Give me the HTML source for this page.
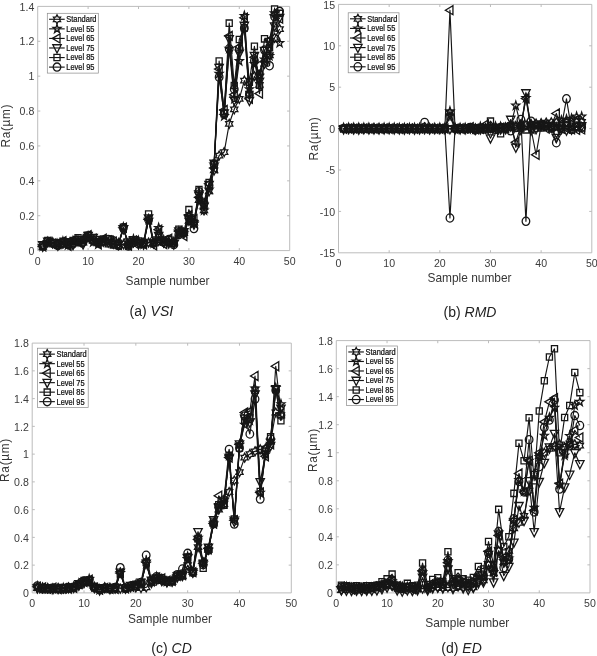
<!DOCTYPE html>
<html lang="en">
<head>
<meta charset="utf-8">
<title>Ra versus sample number</title>
<style>
html,body{margin:0;padding:0;background:#fff}
svg{display:block}
text{font-family:"Liberation Sans",sans-serif}
.ax{fill:none;stroke:#b8b8b8;stroke-width:.95}
.tk text{font-size:10.6px;fill:#3c3c3c}
.lb{font-size:11.9px;fill:#363636}
.cp{font-size:14px;fill:#222}
.ln{fill:none;stroke:#161616;stroke-width:1.15;stroke-linejoin:round}
.mk{fill:none;stroke:#161616;stroke-width:1.3;stroke-linejoin:miter}
.lg{fill:#fff;stroke:#8a8a8a;stroke-width:.7}
.lt{font-size:7.45px;fill:#111;stroke:#111;stroke-width:.22}
</style>
</head>
<body>
<svg width="597" height="656" viewBox="0 0 597 656">
<rect width="597" height="656" fill="#fff"/>
<path class="ax" d="M37.7,6.4H289.7V250.6H37.7ZM88.1,250.6v-2.6M88.1,6.4v2.6M138.5,250.6v-2.6M138.5,6.4v2.6M188.9,250.6v-2.6M188.9,6.4v2.6M239.3,250.6v-2.6M239.3,6.4v2.6M37.7,215.71h2.6M289.7,215.71h-2.6M37.7,180.83h2.6M289.7,180.83h-2.6M37.7,145.94h2.6M289.7,145.94h-2.6M37.7,111.06h2.6M289.7,111.06h-2.6M37.7,76.17h2.6M289.7,76.17h-2.6M37.7,41.29h2.6M289.7,41.29h-2.6"/>
<g class="tk" transform="scale(1,1.07)">
<text x="37.7" y="247.57" text-anchor="middle">0</text>
<text x="88.1" y="247.57" text-anchor="middle">10</text>
<text x="138.5" y="247.57" text-anchor="middle">20</text>
<text x="188.9" y="247.57" text-anchor="middle">30</text>
<text x="239.3" y="247.57" text-anchor="middle">40</text>
<text x="289.7" y="247.57" text-anchor="middle">50</text>
<text x="34.3" y="238.13" text-anchor="end">0</text>
<text x="34.3" y="205.53" text-anchor="end">0.2</text>
<text x="34.3" y="172.92" text-anchor="end">0.4</text>
<text x="34.3" y="140.32" text-anchor="end">0.6</text>
<text x="34.3" y="107.72" text-anchor="end">0.8</text>
<text x="34.3" y="75.11" text-anchor="end">1</text>
<text x="34.3" y="42.51" text-anchor="end">1.2</text>
<text x="34.3" y="9.91" text-anchor="end">1.4</text>
</g>
<path class="ln" d="M42.74,246.94L47.78,242.58L52.82,243.45L57.86,244.32L62.9,243.45L67.94,244.32L72.98,242.58L78.02,241.7L83.06,242.58L88.1,237.34L93.14,240.83L98.18,242.58L103.22,241.7L108.26,242.58L113.3,243.45L118.34,244.32L123.38,244.32L128.42,244.32L133.46,242.58L138.5,242.58L143.54,243.45L148.58,242.58L153.62,243.45L158.66,240.83L163.7,242.58L168.74,241.7L173.78,242.58L178.82,233.85L183.86,233.16L188.9,220.95L193.94,222.69L198.98,200.02L204.02,210.48L209.06,191.29L214.1,170.36L219.14,155.54L224.18,152.05L229.22,123.79L234.26,109.31L239.3,98.85L244.34,80.53L249.38,93.61L254.42,76.17L259.46,84.89L264.5,63.96L269.54,55.24L274.58,37.8L279.62,29.08"/>
<path class="mk" d="M42.74,242.45L43.94,244.69L46.33,244.7L45.14,246.94L46.33,249.18L43.94,249.18L42.74,251.42L41.54,249.18L39.15,249.18L40.34,246.94L39.15,244.7L41.54,244.69ZM47.78,238.09L48.98,240.33L51.37,240.34L50.18,242.58L51.37,244.82L48.98,244.82L47.78,247.06L46.58,244.82L44.19,244.82L45.38,242.58L44.19,240.34L46.58,240.33ZM52.82,238.97L54.02,241.2L56.41,241.21L55.22,243.45L56.41,245.69L54.02,245.69L52.82,247.93L51.62,245.69L49.23,245.69L50.42,243.45L49.23,241.21L51.62,241.2ZM57.86,239.84L59.06,242.08L61.45,242.08L60.26,244.32L61.45,246.56L59.06,246.57L57.86,248.8L56.66,246.57L54.27,246.56L55.46,244.32L54.27,242.08L56.66,242.08ZM62.9,238.97L64.1,241.2L66.49,241.21L65.3,243.45L66.49,245.69L64.1,245.69L62.9,247.93L61.7,245.69L59.31,245.69L60.5,243.45L59.31,241.21L61.7,241.2ZM67.94,239.84L69.14,242.08L71.53,242.08L70.34,244.32L71.53,246.56L69.14,246.57L67.94,248.8L66.74,246.57L64.35,246.56L65.54,244.32L64.35,242.08L66.74,242.08ZM72.98,238.09L74.18,240.33L76.57,240.34L75.38,242.58L76.57,244.82L74.18,244.82L72.98,247.06L71.78,244.82L69.39,244.82L70.58,242.58L69.39,240.34L71.78,240.33ZM78.02,237.22L79.22,239.46L81.61,239.46L80.42,241.7L81.61,243.95L79.22,243.95L78.02,246.19L76.82,243.95L74.43,243.95L75.62,241.7L74.43,239.46L76.82,239.46ZM83.06,238.09L84.26,240.33L86.65,240.34L85.46,242.58L86.65,244.82L84.26,244.82L83.06,247.06L81.86,244.82L79.47,244.82L80.66,242.58L79.47,240.34L81.86,240.33ZM88.1,232.86L89.3,235.1L91.69,235.1L90.5,237.34L91.69,239.58L89.3,239.59L88.1,241.83L86.9,239.59L84.51,239.58L85.7,237.34L84.51,235.1L86.9,235.1ZM93.14,236.35L94.34,238.59L96.73,238.59L95.54,240.83L96.73,243.07L94.34,243.08L93.14,245.31L91.94,243.08L89.55,243.07L90.74,240.83L89.55,238.59L91.94,238.59ZM98.18,238.09L99.38,240.33L101.77,240.34L100.58,242.58L101.77,244.82L99.38,244.82L98.18,247.06L96.98,244.82L94.59,244.82L95.78,242.58L94.59,240.34L96.98,240.33ZM103.22,237.22L104.42,239.46L106.81,239.46L105.62,241.7L106.81,243.95L104.42,243.95L103.22,246.19L102.02,243.95L99.63,243.95L100.82,241.7L99.63,239.46L102.02,239.46ZM108.26,238.09L109.46,240.33L111.85,240.34L110.66,242.58L111.85,244.82L109.46,244.82L108.26,247.06L107.06,244.82L104.67,244.82L105.86,242.58L104.67,240.34L107.06,240.33ZM113.3,238.97L114.5,241.2L116.89,241.21L115.7,243.45L116.89,245.69L114.5,245.69L113.3,247.93L112.1,245.69L109.71,245.69L110.9,243.45L109.71,241.21L112.1,241.2ZM118.34,239.84L119.54,242.08L121.93,242.08L120.74,244.32L121.93,246.56L119.54,246.57L118.34,248.8L117.14,246.57L114.75,246.56L115.94,244.32L114.75,242.08L117.14,242.08ZM123.38,239.84L124.58,242.08L126.97,242.08L125.78,244.32L126.97,246.56L124.58,246.57L123.38,248.8L122.18,246.57L119.79,246.56L120.98,244.32L119.79,242.08L122.18,242.08ZM128.42,239.84L129.62,242.08L132.01,242.08L130.82,244.32L132.01,246.56L129.62,246.57L128.42,248.8L127.22,246.57L124.83,246.56L126.02,244.32L124.83,242.08L127.22,242.08ZM133.46,238.09L134.66,240.33L137.05,240.34L135.86,242.58L137.05,244.82L134.66,244.82L133.46,247.06L132.26,244.82L129.87,244.82L131.06,242.58L129.87,240.34L132.26,240.33ZM138.5,238.09L139.7,240.33L142.09,240.34L140.9,242.58L142.09,244.82L139.7,244.82L138.5,247.06L137.3,244.82L134.91,244.82L136.1,242.58L134.91,240.34L137.3,240.33ZM143.54,238.97L144.74,241.2L147.13,241.21L145.94,243.45L147.13,245.69L144.74,245.69L143.54,247.93L142.34,245.69L139.95,245.69L141.14,243.45L139.95,241.21L142.34,241.2ZM148.58,238.09L149.78,240.33L152.17,240.34L150.98,242.58L152.17,244.82L149.78,244.82L148.58,247.06L147.38,244.82L144.99,244.82L146.18,242.58L144.99,240.34L147.38,240.33ZM153.62,238.97L154.82,241.2L157.21,241.21L156.02,243.45L157.21,245.69L154.82,245.69L153.62,247.93L152.42,245.69L150.03,245.69L151.22,243.45L150.03,241.21L152.42,241.2ZM158.66,236.35L159.86,238.59L162.25,238.59L161.06,240.83L162.25,243.07L159.86,243.08L158.66,245.31L157.46,243.08L155.07,243.07L156.26,240.83L155.07,238.59L157.46,238.59ZM163.7,238.09L164.9,240.33L167.29,240.34L166.1,242.58L167.29,244.82L164.9,244.82L163.7,247.06L162.5,244.82L160.11,244.82L161.3,242.58L160.11,240.34L162.5,240.33ZM168.74,237.22L169.94,239.46L172.33,239.46L171.14,241.7L172.33,243.95L169.94,243.95L168.74,246.19L167.54,243.95L165.15,243.95L166.34,241.7L165.15,239.46L167.54,239.46ZM173.78,238.09L174.98,240.33L177.37,240.34L176.18,242.58L177.37,244.82L174.98,244.82L173.78,247.06L172.58,244.82L170.19,244.82L171.38,242.58L170.19,240.34L172.58,240.33ZM178.82,229.37L180.02,231.61L182.41,231.61L181.22,233.85L182.41,236.1L180.02,236.1L178.82,238.34L177.62,236.1L175.23,236.1L176.42,233.85L175.23,231.61L177.62,231.61ZM183.86,228.68L185.06,230.91L187.45,230.92L186.26,233.16L187.45,235.4L185.06,235.4L183.86,237.64L182.66,235.4L180.27,235.4L181.46,233.16L180.27,230.92L182.66,230.91ZM188.9,216.47L190.1,218.7L192.49,218.71L191.3,220.95L192.49,223.19L190.1,223.19L188.9,225.43L187.7,223.19L185.31,223.19L186.5,220.95L185.31,218.71L187.7,218.7ZM193.94,218.21L195.14,220.45L197.53,220.45L196.34,222.69L197.53,224.93L195.14,224.94L193.94,227.17L192.74,224.94L190.35,224.93L191.54,222.69L190.35,220.45L192.74,220.45ZM198.98,195.53L200.18,197.77L202.57,197.77L201.38,200.02L202.57,202.26L200.18,202.26L198.98,204.5L197.78,202.26L195.39,202.26L196.58,200.02L195.39,197.77L197.78,197.77ZM204.02,206L205.22,208.24L207.61,208.24L206.42,210.48L207.61,212.72L205.22,212.73L204.02,214.96L202.82,212.73L200.43,212.72L201.62,210.48L200.43,208.24L202.82,208.24ZM209.06,186.81L210.26,189.05L212.65,189.05L211.46,191.29L212.65,193.54L210.26,193.54L209.06,195.78L207.86,193.54L205.47,193.54L206.66,191.29L205.47,189.05L207.86,189.05ZM214.1,165.88L215.3,168.12L217.69,168.12L216.5,170.36L217.69,172.6L215.3,172.61L214.1,174.84L212.9,172.61L210.51,172.6L211.7,170.36L210.51,168.12L212.9,168.12ZM219.14,151.05L220.34,153.29L222.73,153.3L221.54,155.54L222.73,157.78L220.34,157.78L219.14,160.02L217.94,157.78L215.55,157.78L216.74,155.54L215.55,153.3L217.94,153.29ZM224.18,147.57L225.38,149.8L227.77,149.81L226.58,152.05L227.77,154.29L225.38,154.29L224.18,156.53L222.98,154.29L220.59,154.29L221.78,152.05L220.59,149.81L222.98,149.8ZM229.22,119.31L230.42,121.55L232.81,121.55L231.62,123.79L232.81,126.03L230.42,126.04L229.22,128.27L228.02,126.04L225.63,126.03L226.82,123.79L225.63,121.55L228.02,121.55ZM234.26,104.83L235.46,107.07L237.85,107.07L236.66,109.31L237.85,111.55L235.46,111.56L234.26,113.79L233.06,111.56L230.67,111.55L231.86,109.31L230.67,107.07L233.06,107.07ZM239.3,94.37L240.5,96.6L242.89,96.61L241.7,98.85L242.89,101.09L240.5,101.09L239.3,103.33L238.1,101.09L235.71,101.09L236.9,98.85L235.71,96.61L238.1,96.6ZM244.34,76.05L245.54,78.29L247.93,78.29L246.74,80.53L247.93,82.77L245.54,82.78L244.34,85.01L243.14,82.78L240.75,82.77L241.94,80.53L240.75,78.29L243.14,78.29ZM249.38,89.13L250.58,91.37L252.97,91.37L251.78,93.61L252.97,95.86L250.58,95.86L249.38,98.1L248.18,95.86L245.79,95.86L246.98,93.61L245.79,91.37L248.18,91.37ZM254.42,71.69L255.62,73.93L258.01,73.93L256.82,76.17L258.01,78.41L255.62,78.42L254.42,80.65L253.22,78.42L250.83,78.41L252.02,76.17L250.83,73.93L253.22,73.93ZM259.46,80.41L260.66,82.65L263.05,82.65L261.86,84.89L263.05,87.13L260.66,87.14L259.46,89.37L258.26,87.14L255.87,87.13L257.06,84.89L255.87,82.65L258.26,82.65ZM264.5,59.48L265.7,61.72L268.09,61.72L266.9,63.96L268.09,66.2L265.7,66.21L264.5,68.44L263.3,66.21L260.91,66.2L262.1,63.96L260.91,61.72L263.3,61.72ZM269.54,50.76L270.74,53L273.13,53L271.94,55.24L273.13,57.48L270.74,57.48L269.54,59.72L268.34,57.48L265.95,57.48L267.14,55.24L265.95,53L268.34,53ZM274.58,33.32L275.78,35.55L278.17,35.56L276.98,37.8L278.17,40.04L275.78,40.04L274.58,42.28L273.38,40.04L270.99,40.04L272.18,37.8L270.99,35.56L273.38,35.55ZM279.62,24.59L280.82,26.83L283.21,26.83L282.02,29.08L283.21,31.32L280.82,31.32L279.62,33.56L278.42,31.32L276.03,31.32L277.22,29.08L276.03,26.83L278.42,26.83Z"/>
<path class="ln" d="M42.74,246.31L47.78,242.1L52.82,242.67L57.86,244.09L62.9,241.59L67.94,245.16L72.98,241L78.02,242.56L83.06,239.62L88.1,236.25L93.14,242.3L98.18,244.36L103.22,242.01L108.26,241.9L113.3,241.46L118.34,243.28L123.38,227.48L128.42,245.08L133.46,239.46L138.5,240.97L143.54,244.54L148.58,219.63L153.62,243.42L158.66,227.92L163.7,240.21L168.74,242.33L173.78,242.09L178.82,231.5L183.86,233.15L188.9,216.02L193.94,223.64L198.98,192.25L204.02,210.48L209.06,189.53L214.1,164.57L219.14,73.81L224.18,116.1L229.22,48.76L234.26,99.06L239.3,61.08L244.34,15.99L249.38,89.17L254.42,63.91L259.46,75.67L264.5,59.41L269.54,56.02L274.58,13.38L279.62,43.03"/>
<path class="mk" d="M42.74,241.83L43.71,244.87L46.69,244.93L44.31,246.86L45.18,249.94L42.74,248.09L40.3,249.94L41.17,246.86L38.79,244.93L41.77,244.87ZM47.78,237.61L48.75,240.66L51.73,240.71L49.35,242.65L50.22,245.72L47.78,243.88L45.34,245.72L46.21,242.65L43.83,240.71L46.81,240.66ZM52.82,238.19L53.79,241.23L56.77,241.28L54.39,243.22L55.26,246.29L52.82,244.45L50.38,246.29L51.25,243.22L48.87,241.28L51.85,241.23ZM57.86,239.61L58.83,242.65L61.81,242.7L59.43,244.64L60.3,247.72L57.86,245.87L55.42,247.72L56.29,244.64L53.91,242.7L56.89,242.65ZM62.9,237.1L63.87,240.15L66.85,240.2L64.47,242.14L65.34,245.21L62.9,243.37L60.46,245.21L61.33,242.14L58.95,240.2L61.93,240.15ZM67.94,240.68L68.91,243.72L71.89,243.77L69.51,245.71L70.38,248.78L67.94,246.94L65.5,248.78L66.37,245.71L63.99,243.77L66.97,243.72ZM72.98,236.52L73.95,239.56L76.93,239.62L74.55,241.55L75.42,244.63L72.98,242.79L70.54,244.63L71.41,241.55L69.03,239.62L72.01,239.56ZM78.02,238.07L78.99,241.11L81.97,241.17L79.59,243.11L80.46,246.18L78.02,244.34L75.58,246.18L76.45,243.11L74.07,241.17L77.05,241.11ZM83.06,235.14L84.03,238.18L87.01,238.23L84.63,240.17L85.5,243.24L83.06,241.4L80.62,243.24L81.49,240.17L79.11,238.23L82.09,238.18ZM88.1,231.77L89.07,234.81L92.05,234.87L89.67,236.8L90.54,239.88L88.1,238.04L85.66,239.88L86.53,236.8L84.15,234.87L87.13,234.81ZM93.14,237.81L94.11,240.85L97.09,240.91L94.71,242.85L95.58,245.92L93.14,244.08L90.7,245.92L91.57,242.85L89.19,240.91L92.17,240.85ZM98.18,239.88L99.15,242.92L102.13,242.97L99.75,244.91L100.62,247.98L98.18,246.14L95.74,247.98L96.61,244.91L94.23,242.97L97.21,242.92ZM103.22,237.52L104.19,240.57L107.17,240.62L104.79,242.56L105.66,245.63L103.22,243.79L100.78,245.63L101.65,242.56L99.27,240.62L102.25,240.57ZM108.26,237.41L109.23,240.45L112.21,240.51L109.83,242.45L110.7,245.52L108.26,243.68L105.82,245.52L106.69,242.45L104.31,240.51L107.29,240.45ZM113.3,236.98L114.27,240.02L117.25,240.08L114.87,242.02L115.74,245.09L113.3,243.25L110.86,245.09L111.73,242.02L109.35,240.08L112.33,240.02ZM118.34,238.79L119.31,241.83L122.29,241.89L119.91,243.83L120.78,246.9L118.34,245.06L115.9,246.9L116.77,243.83L114.39,241.89L117.37,241.83ZM123.38,223L124.35,226.04L127.33,226.1L124.95,228.03L125.82,231.11L123.38,229.26L120.94,231.11L121.81,228.03L119.43,226.1L122.41,226.04ZM128.42,240.6L129.39,243.64L132.37,243.69L129.99,245.63L130.86,248.7L128.42,246.86L125.98,248.7L126.85,245.63L124.47,243.69L127.45,243.64ZM133.46,234.97L134.43,238.01L137.41,238.07L135.03,240.01L135.9,243.08L133.46,241.24L131.02,243.08L131.89,240.01L129.51,238.07L132.49,238.01ZM138.5,236.49L139.47,239.53L142.45,239.59L140.07,241.52L140.94,244.6L138.5,242.76L136.06,244.6L136.93,241.52L134.55,239.59L137.53,239.53ZM143.54,240.05L144.51,243.09L147.49,243.15L145.11,245.09L145.98,248.16L143.54,246.32L141.1,248.16L141.97,245.09L139.59,243.15L142.57,243.09ZM148.58,215.15L149.55,218.19L152.53,218.25L150.15,220.18L151.02,223.26L148.58,221.41L146.14,223.26L147.01,220.18L144.63,218.25L147.61,218.19ZM153.62,238.94L154.59,241.98L157.57,242.03L155.19,243.97L156.06,247.04L153.62,245.2L151.18,247.04L152.05,243.97L149.67,242.03L152.65,241.98ZM158.66,223.44L159.63,226.48L162.61,226.54L160.23,228.47L161.1,231.55L158.66,229.71L156.22,231.55L157.09,228.47L154.71,226.54L157.69,226.48ZM163.7,235.73L164.67,238.77L167.65,238.82L165.27,240.76L166.14,243.84L163.7,241.99L161.26,243.84L162.13,240.76L159.75,238.82L162.73,238.77ZM168.74,237.84L169.71,240.88L172.69,240.94L170.31,242.88L171.18,245.95L168.74,244.11L166.3,245.95L167.17,242.88L164.79,240.94L167.77,240.88ZM173.78,237.6L174.75,240.64L177.73,240.7L175.35,242.64L176.22,245.71L173.78,243.87L171.34,245.71L172.21,242.64L169.83,240.7L172.81,240.64ZM178.82,227.02L179.79,230.06L182.77,230.12L180.39,232.05L181.26,235.13L178.82,233.28L176.38,235.13L177.25,232.05L174.87,230.12L177.85,230.06ZM183.86,228.67L184.83,231.71L187.81,231.77L185.43,233.7L186.3,236.78L183.86,234.93L181.42,236.78L182.29,233.7L179.91,231.77L182.89,231.71ZM188.9,211.54L189.87,214.58L192.85,214.64L190.47,216.57L191.34,219.65L188.9,217.8L186.46,219.65L187.33,216.57L184.95,214.64L187.93,214.58ZM193.94,219.15L194.91,222.19L197.89,222.25L195.51,224.19L196.38,227.26L193.94,225.42L191.5,227.26L192.37,224.19L189.99,222.25L192.97,222.19ZM198.98,187.77L199.95,190.81L202.93,190.87L200.55,192.8L201.42,195.88L198.98,194.03L196.54,195.88L197.41,192.8L195.03,190.87L198.01,190.81ZM204.02,206L204.99,209.04L207.97,209.1L205.59,211.03L206.46,214.11L204.02,212.26L201.58,214.11L202.45,211.03L200.07,209.1L203.05,209.04ZM209.06,185.05L210.03,188.09L213.01,188.15L210.63,190.08L211.5,193.16L209.06,191.31L206.62,193.16L207.49,190.08L205.11,188.15L208.09,188.09ZM214.1,160.09L215.07,163.13L218.05,163.19L215.67,165.12L216.54,168.2L214.1,166.35L211.66,168.2L212.53,165.12L210.15,163.19L213.13,163.13ZM219.14,69.32L220.11,72.36L223.09,72.42L220.71,74.36L221.58,77.43L219.14,75.59L216.7,77.43L217.57,74.36L215.19,72.42L218.17,72.36ZM224.18,111.62L225.15,114.66L228.13,114.71L225.75,116.65L226.62,119.72L224.18,117.88L221.74,119.72L222.61,116.65L220.23,114.71L223.21,114.66ZM229.22,44.28L230.19,47.32L233.17,47.38L230.79,49.31L231.66,52.39L229.22,50.54L226.78,52.39L227.65,49.31L225.27,47.38L228.25,47.32ZM234.26,94.58L235.23,97.62L238.21,97.67L235.83,99.61L236.7,102.68L234.26,100.84L231.82,102.68L232.69,99.61L230.31,97.67L233.29,97.62ZM239.3,56.59L240.27,59.63L243.25,59.69L240.87,61.63L241.74,64.7L239.3,62.86L236.86,64.7L237.73,61.63L235.35,59.69L238.33,59.63ZM244.34,11.51L245.31,14.55L248.29,14.61L245.91,16.54L246.78,19.62L244.34,17.78L241.9,19.62L242.77,16.54L240.39,14.61L243.37,14.55ZM249.38,84.69L250.35,87.73L253.33,87.79L250.95,89.72L251.82,92.8L249.38,90.95L246.94,92.8L247.81,89.72L245.43,87.79L248.41,87.73ZM254.42,59.43L255.39,62.47L258.37,62.52L255.99,64.46L256.86,67.53L254.42,65.69L251.98,67.53L252.85,64.46L250.47,62.52L253.45,62.47ZM259.46,71.19L260.43,74.23L263.41,74.29L261.03,76.23L261.9,79.3L259.46,77.46L257.02,79.3L257.89,76.23L255.51,74.29L258.49,74.23ZM264.5,54.93L265.47,57.97L268.45,58.02L266.07,59.96L266.94,63.03L264.5,61.19L262.06,63.03L262.93,59.96L260.55,58.02L263.53,57.97ZM269.54,51.54L270.51,54.58L273.49,54.63L271.11,56.57L271.98,59.65L269.54,57.8L267.1,59.65L267.97,56.57L265.59,54.63L268.57,54.58ZM274.58,8.9L275.55,11.94L278.53,11.99L276.15,13.93L277.02,17L274.58,15.16L272.14,17L273.01,13.93L270.63,11.99L273.61,11.94ZM279.62,38.55L280.59,41.59L283.57,41.64L281.19,43.58L282.06,46.66L279.62,44.81L277.18,46.66L278.05,43.58L275.67,41.64L278.65,41.59Z"/>
<path class="ln" d="M42.74,246.32L47.78,241.91L52.82,243.41L57.86,243.8L62.9,241.26L67.94,245.84L72.98,240.39L78.02,242.21L83.06,239.91L88.1,235.14L93.14,238.75L98.18,244.22L103.22,238.62L108.26,240.56L113.3,241.67L118.34,244.93L123.38,227.81L128.42,245.54L133.46,240.46L138.5,243.22L143.54,244.28L148.58,219.43L153.62,245.28L158.66,229.67L163.7,243.98L168.74,238.69L173.78,241.12L178.82,231.05L183.86,235.95L188.9,215.12L193.94,219.07L198.98,197.2L204.02,201.58L209.06,183.75L214.1,167.95L219.14,68.97L224.18,109.95L229.22,35.89L234.26,94.66L239.3,46.85L244.34,17.74L249.38,98.85L254.42,57.29L259.46,93.61L264.5,61.45L269.54,39.84L274.58,14.71L279.62,18.61"/>
<path class="mk" d="M38.14,246.32L45.74,241.79L45.74,250.86ZM43.18,241.91L50.78,237.38L50.78,246.45ZM48.22,243.41L55.82,238.87L55.82,247.94ZM53.26,243.8L60.86,239.26L60.86,248.33ZM58.3,241.26L65.9,236.73L65.9,245.8ZM63.34,245.84L70.94,241.3L70.94,250.37ZM68.38,240.39L75.98,235.85L75.98,244.92ZM73.42,242.21L81.02,237.68L81.02,246.75ZM78.46,239.91L86.06,235.37L86.06,244.44ZM83.5,235.14L91.1,230.61L91.1,239.68ZM88.54,238.75L96.14,234.22L96.14,243.29ZM93.58,244.22L101.18,239.68L101.18,248.75ZM98.62,238.62L106.22,234.08L106.22,243.15ZM103.66,240.56L111.26,236.02L111.26,245.1ZM108.7,241.67L116.3,237.14L116.3,246.21ZM113.74,244.93L121.34,240.39L121.34,249.46ZM118.78,227.81L126.38,223.27L126.38,232.34ZM123.82,245.54L131.42,241L131.42,250.07ZM128.86,240.46L136.46,235.93L136.46,245ZM133.9,243.22L141.5,238.68L141.5,247.76ZM138.94,244.28L146.54,239.75L146.54,248.82ZM143.98,219.43L151.58,214.89L151.58,223.97ZM149.02,245.28L156.62,240.74L156.62,249.82ZM154.06,229.67L161.66,225.13L161.66,234.2ZM159.1,243.98L166.7,239.44L166.7,248.51ZM164.14,238.69L171.74,234.15L171.74,243.23ZM169.18,241.12L176.78,236.59L176.78,245.66ZM174.22,231.05L181.82,226.51L181.82,235.58ZM179.26,235.95L186.86,231.42L186.86,240.49ZM184.3,215.12L191.9,210.59L191.9,219.66ZM189.34,219.07L196.94,214.54L196.94,223.61ZM194.38,197.2L201.98,192.66L201.98,201.74ZM199.42,201.58L207.02,197.04L207.02,206.11ZM204.46,183.75L212.06,179.21L212.06,188.28ZM209.5,167.95L217.1,163.42L217.1,172.49ZM214.54,68.97L222.14,64.43L222.14,73.5ZM219.58,109.95L227.18,105.42L227.18,114.49ZM224.62,35.89L232.22,31.35L232.22,40.43ZM229.66,94.66L237.26,90.13L237.26,99.2ZM234.7,46.85L242.3,42.31L242.3,51.39ZM239.74,17.74L247.34,13.2L247.34,22.27ZM244.78,98.85L252.38,94.31L252.38,103.38ZM249.82,57.29L257.42,52.75L257.42,61.83ZM254.86,93.61L262.46,89.08L262.46,98.15ZM259.9,61.45L267.5,56.91L267.5,65.98ZM264.94,39.84L272.54,35.3L272.54,44.38ZM269.98,14.71L277.58,10.17L277.58,19.24ZM275.02,18.61L282.62,14.07L282.62,23.15Z"/>
<path class="ln" d="M42.74,244.96L47.78,241.3L52.82,242.9L57.86,245.3L62.9,242.99L67.94,241.85L72.98,244.79L78.02,239.78L83.06,244.05L88.1,235.75L93.14,237.75L98.18,241.54L103.22,241.08L108.26,239.09L113.3,243.42L118.34,244.82L123.38,228.97L128.42,242.08L133.46,239.88L138.5,244L143.54,244.23L148.58,218.16L153.62,243.05L158.66,235.55L163.7,242.12L168.74,243.13L173.78,244.2L178.82,231.09L183.86,232.01L188.9,218.9L193.94,224.25L198.98,195.42L204.02,206.29L209.06,184.74L214.1,163.44L219.14,67.64L224.18,113.02L229.22,38.84L234.26,100.2L239.3,53.29L244.34,25.51L249.38,100.59L254.42,55.63L259.46,81.49L264.5,50.59L269.54,41.63L274.58,26.05L279.62,17.69"/>
<path class="mk" d="M42.74,249.92L38.54,241.72L46.94,241.72ZM47.78,246.27L43.58,238.06L51.98,238.06ZM52.82,247.87L48.62,239.66L57.02,239.66ZM57.86,250.27L53.66,242.06L62.06,242.06ZM62.9,247.96L58.7,239.75L67.1,239.75ZM67.94,246.82L63.74,238.61L72.14,238.61ZM72.98,249.75L68.78,241.55L77.18,241.55ZM78.02,244.75L73.82,236.54L82.22,236.54ZM83.06,249.02L78.86,240.81L87.26,240.81ZM88.1,240.72L83.9,232.51L92.3,232.51ZM93.14,242.72L88.94,234.51L97.34,234.51ZM98.18,246.51L93.98,238.3L102.38,238.3ZM103.22,246.04L99.02,237.84L107.42,237.84ZM108.26,244.06L104.06,235.85L112.46,235.85ZM113.3,248.39L109.1,240.18L117.5,240.18ZM118.34,249.79L114.14,241.58L122.54,241.58ZM123.38,233.94L119.18,225.73L127.58,225.73ZM128.42,247.05L124.22,238.84L132.62,238.84ZM133.46,244.85L129.26,236.64L137.66,236.64ZM138.5,248.97L134.3,240.76L142.7,240.76ZM143.54,249.2L139.34,240.99L147.74,240.99ZM148.58,223.13L144.38,214.92L152.78,214.92ZM153.62,248.02L149.42,239.81L157.82,239.81ZM158.66,240.52L154.46,232.31L162.86,232.31ZM163.7,247.09L159.5,238.88L167.9,238.88ZM168.74,248.1L164.54,239.89L172.94,239.89ZM173.78,249.17L169.58,240.96L177.98,240.96ZM178.82,236.05L174.62,227.85L183.02,227.85ZM183.86,236.98L179.66,228.77L188.06,228.77ZM188.9,223.87L184.7,215.66L193.1,215.66ZM193.94,229.22L189.74,221.01L198.14,221.01ZM198.98,200.38L194.78,192.18L203.18,192.18ZM204.02,211.26L199.82,203.05L208.22,203.05ZM209.06,189.71L204.86,181.5L213.26,181.5ZM214.1,168.41L209.9,160.2L218.3,160.2ZM219.14,72.61L214.94,64.4L223.34,64.4ZM224.18,117.99L219.98,109.78L228.38,109.78ZM229.22,43.81L225.02,35.6L233.42,35.6ZM234.26,105.17L230.06,96.96L238.46,96.96ZM239.3,58.26L235.1,50.05L243.5,50.05ZM244.34,30.48L240.14,22.27L248.54,22.27ZM249.38,105.56L245.18,97.35L253.58,97.35ZM254.42,60.6L250.22,52.39L258.62,52.39ZM259.46,86.46L255.26,78.25L263.66,78.25ZM264.5,55.56L260.3,47.35L268.7,47.35ZM269.54,46.6L265.34,38.39L273.74,38.39ZM274.58,31.02L270.38,22.81L278.78,22.81ZM279.62,22.65L275.42,14.45L283.82,14.45Z"/>
<path class="ln" d="M42.74,246.29L47.78,240.51L52.82,243L57.86,245.33L62.9,241.4L67.94,242.83L72.98,240.48L78.02,237.74L83.06,240.78L88.1,235.2L93.14,240.02L98.18,242.81L103.22,239.13L108.26,243.67L113.3,245.03L118.34,245.4L123.38,227.18L128.42,245.89L133.46,241.12L138.5,241.06L143.54,242.85L148.58,213.97L153.62,243.14L158.66,236.12L163.7,242.02L168.74,239.9L173.78,242.94L178.82,229.26L183.86,231.87L188.9,209.61L193.94,223.1L198.98,189.55L204.02,204.51L209.06,182.53L214.1,164.37L219.14,61L224.18,113.6L229.22,23.15L234.26,85.52L239.3,39.54L244.34,27.89L249.38,82.12L254.42,46.34L259.46,85.21L264.5,38.84L269.54,47.63L274.58,9.02L279.62,13.38"/>
<path class="mk" d="M39.69,243.16L45.79,243.16L45.79,249.43L39.69,249.43ZM44.73,237.38L50.83,237.38L50.83,243.64L44.73,243.64ZM49.77,239.86L55.87,239.86L55.87,246.13L49.77,246.13ZM54.81,242.2L60.91,242.2L60.91,248.46L54.81,248.46ZM59.85,238.27L65.95,238.27L65.95,244.54L59.85,244.54ZM64.89,239.7L70.99,239.7L70.99,245.96L64.89,245.96ZM69.93,237.34L76.03,237.34L76.03,243.61L69.93,243.61ZM74.97,234.61L81.07,234.61L81.07,240.88L74.97,240.88ZM80.01,237.65L86.11,237.65L86.11,243.91L80.01,243.91ZM85.05,232.07L91.15,232.07L91.15,238.33L85.05,238.33ZM90.09,236.89L96.19,236.89L96.19,243.15L90.09,243.15ZM95.13,239.68L101.23,239.68L101.23,245.94L95.13,245.94ZM100.17,236L106.27,236L106.27,242.26L100.17,242.26ZM105.21,240.54L111.31,240.54L111.31,246.8L105.21,246.8ZM110.25,241.9L116.35,241.9L116.35,248.17L110.25,248.17ZM115.29,242.27L121.39,242.27L121.39,248.53L115.29,248.53ZM120.33,224.04L126.43,224.04L126.43,230.31L120.33,230.31ZM125.37,242.76L131.47,242.76L131.47,249.02L125.37,249.02ZM130.41,237.99L136.51,237.99L136.51,244.26L130.41,244.26ZM135.45,237.93L141.55,237.93L141.55,244.2L135.45,244.2ZM140.49,239.72L146.59,239.72L146.59,245.99L140.49,245.99ZM145.53,210.84L151.63,210.84L151.63,217.1L145.53,217.1ZM150.57,240.01L156.67,240.01L156.67,246.28L150.57,246.28ZM155.61,232.98L161.71,232.98L161.71,239.25L155.61,239.25ZM160.65,238.89L166.75,238.89L166.75,245.15L160.65,245.15ZM165.69,236.77L171.79,236.77L171.79,243.03L165.69,243.03ZM170.73,239.81L176.83,239.81L176.83,246.07L170.73,246.07ZM175.77,226.13L181.87,226.13L181.87,232.39L175.77,232.39ZM180.81,228.74L186.91,228.74L186.91,235L180.81,235ZM185.85,206.48L191.95,206.48L191.95,212.74L185.85,212.74ZM190.89,219.97L196.99,219.97L196.99,226.24L190.89,226.24ZM195.93,186.42L202.03,186.42L202.03,192.68L195.93,192.68ZM200.97,201.38L207.07,201.38L207.07,207.65L200.97,207.65ZM206.01,179.4L212.11,179.4L212.11,185.66L206.01,185.66ZM211.05,161.24L217.15,161.24L217.15,167.51L211.05,167.51ZM216.09,57.86L222.19,57.86L222.19,64.13L216.09,64.13ZM221.13,110.47L227.23,110.47L227.23,116.73L221.13,116.73ZM226.17,20.01L232.27,20.01L232.27,26.28L226.17,26.28ZM231.21,82.39L237.31,82.39L237.31,88.65L231.21,88.65ZM236.25,36.41L242.35,36.41L242.35,42.67L236.25,42.67ZM241.29,24.76L247.39,24.76L247.39,31.02L241.29,31.02ZM246.33,78.99L252.43,78.99L252.43,85.26L246.33,85.26ZM251.37,43.21L257.47,43.21L257.47,49.48L251.37,49.48ZM256.41,82.08L262.51,82.08L262.51,88.35L256.41,88.35ZM261.45,35.71L267.55,35.71L267.55,41.98L261.45,41.98ZM266.49,44.5L272.59,44.5L272.59,50.76L266.49,50.76ZM271.53,5.88L277.63,5.88L277.63,12.15L271.53,12.15ZM276.57,10.25L282.67,10.25L282.67,16.51L276.57,16.51Z"/>
<path class="ln" d="M42.74,246.05L47.78,241.38L52.82,243.29L57.86,245.59L62.9,243.39L67.94,244.46L72.98,243.87L78.02,240.09L83.06,241.99L88.1,236.05L93.14,240.59L98.18,240.54L103.22,241.04L108.26,239.43L113.3,240.84L118.34,245.54L123.38,227.66L128.42,246.07L133.46,242.38L138.5,243.85L143.54,242.26L148.58,219.76L153.62,240.98L158.66,238.34L163.7,240.96L168.74,239.57L173.78,244.54L178.82,234.64L183.86,233.01L188.9,217.24L193.94,228.62L198.98,191.69L204.02,202.89L209.06,185.39L214.1,164.11L219.14,77.15L224.18,113.84L229.22,48.79L234.26,89.28L239.3,48.79L244.34,28.2L249.38,94.17L254.42,60.89L259.46,74.34L264.5,50.12L269.54,65.71L274.58,16.65L279.62,11.35"/>
<path class="mk" d="M38.94,246.05a3.8,4.1 0 1,0 7.6,0a3.8,4.1 0 1,0 -7.6,0ZM43.98,241.38a3.8,4.1 0 1,0 7.6,0a3.8,4.1 0 1,0 -7.6,0ZM49.02,243.29a3.8,4.1 0 1,0 7.6,0a3.8,4.1 0 1,0 -7.6,0ZM54.06,245.59a3.8,4.1 0 1,0 7.6,0a3.8,4.1 0 1,0 -7.6,0ZM59.1,243.39a3.8,4.1 0 1,0 7.6,0a3.8,4.1 0 1,0 -7.6,0ZM64.14,244.46a3.8,4.1 0 1,0 7.6,0a3.8,4.1 0 1,0 -7.6,0ZM69.18,243.87a3.8,4.1 0 1,0 7.6,0a3.8,4.1 0 1,0 -7.6,0ZM74.22,240.09a3.8,4.1 0 1,0 7.6,0a3.8,4.1 0 1,0 -7.6,0ZM79.26,241.99a3.8,4.1 0 1,0 7.6,0a3.8,4.1 0 1,0 -7.6,0ZM84.3,236.05a3.8,4.1 0 1,0 7.6,0a3.8,4.1 0 1,0 -7.6,0ZM89.34,240.59a3.8,4.1 0 1,0 7.6,0a3.8,4.1 0 1,0 -7.6,0ZM94.38,240.54a3.8,4.1 0 1,0 7.6,0a3.8,4.1 0 1,0 -7.6,0ZM99.42,241.04a3.8,4.1 0 1,0 7.6,0a3.8,4.1 0 1,0 -7.6,0ZM104.46,239.43a3.8,4.1 0 1,0 7.6,0a3.8,4.1 0 1,0 -7.6,0ZM109.5,240.84a3.8,4.1 0 1,0 7.6,0a3.8,4.1 0 1,0 -7.6,0ZM114.54,245.54a3.8,4.1 0 1,0 7.6,0a3.8,4.1 0 1,0 -7.6,0ZM119.58,227.66a3.8,4.1 0 1,0 7.6,0a3.8,4.1 0 1,0 -7.6,0ZM124.62,246.07a3.8,4.1 0 1,0 7.6,0a3.8,4.1 0 1,0 -7.6,0ZM129.66,242.38a3.8,4.1 0 1,0 7.6,0a3.8,4.1 0 1,0 -7.6,0ZM134.7,243.85a3.8,4.1 0 1,0 7.6,0a3.8,4.1 0 1,0 -7.6,0ZM139.74,242.26a3.8,4.1 0 1,0 7.6,0a3.8,4.1 0 1,0 -7.6,0ZM144.78,219.76a3.8,4.1 0 1,0 7.6,0a3.8,4.1 0 1,0 -7.6,0ZM149.82,240.98a3.8,4.1 0 1,0 7.6,0a3.8,4.1 0 1,0 -7.6,0ZM154.86,238.34a3.8,4.1 0 1,0 7.6,0a3.8,4.1 0 1,0 -7.6,0ZM159.9,240.96a3.8,4.1 0 1,0 7.6,0a3.8,4.1 0 1,0 -7.6,0ZM164.94,239.57a3.8,4.1 0 1,0 7.6,0a3.8,4.1 0 1,0 -7.6,0ZM169.98,244.54a3.8,4.1 0 1,0 7.6,0a3.8,4.1 0 1,0 -7.6,0ZM175.02,234.64a3.8,4.1 0 1,0 7.6,0a3.8,4.1 0 1,0 -7.6,0ZM180.06,233.01a3.8,4.1 0 1,0 7.6,0a3.8,4.1 0 1,0 -7.6,0ZM185.1,217.24a3.8,4.1 0 1,0 7.6,0a3.8,4.1 0 1,0 -7.6,0ZM190.14,228.62a3.8,4.1 0 1,0 7.6,0a3.8,4.1 0 1,0 -7.6,0ZM195.18,191.69a3.8,4.1 0 1,0 7.6,0a3.8,4.1 0 1,0 -7.6,0ZM200.22,202.89a3.8,4.1 0 1,0 7.6,0a3.8,4.1 0 1,0 -7.6,0ZM205.26,185.39a3.8,4.1 0 1,0 7.6,0a3.8,4.1 0 1,0 -7.6,0ZM210.3,164.11a3.8,4.1 0 1,0 7.6,0a3.8,4.1 0 1,0 -7.6,0ZM215.34,77.15a3.8,4.1 0 1,0 7.6,0a3.8,4.1 0 1,0 -7.6,0ZM220.38,113.84a3.8,4.1 0 1,0 7.6,0a3.8,4.1 0 1,0 -7.6,0ZM225.42,48.79a3.8,4.1 0 1,0 7.6,0a3.8,4.1 0 1,0 -7.6,0ZM230.46,89.28a3.8,4.1 0 1,0 7.6,0a3.8,4.1 0 1,0 -7.6,0ZM235.5,48.79a3.8,4.1 0 1,0 7.6,0a3.8,4.1 0 1,0 -7.6,0ZM240.54,28.2a3.8,4.1 0 1,0 7.6,0a3.8,4.1 0 1,0 -7.6,0ZM245.58,94.17a3.8,4.1 0 1,0 7.6,0a3.8,4.1 0 1,0 -7.6,0ZM250.62,60.89a3.8,4.1 0 1,0 7.6,0a3.8,4.1 0 1,0 -7.6,0ZM255.66,74.34a3.8,4.1 0 1,0 7.6,0a3.8,4.1 0 1,0 -7.6,0ZM260.7,50.12a3.8,4.1 0 1,0 7.6,0a3.8,4.1 0 1,0 -7.6,0ZM265.74,65.71a3.8,4.1 0 1,0 7.6,0a3.8,4.1 0 1,0 -7.6,0ZM270.78,16.65a3.8,4.1 0 1,0 7.6,0a3.8,4.1 0 1,0 -7.6,0ZM275.82,11.35a3.8,4.1 0 1,0 7.6,0a3.8,4.1 0 1,0 -7.6,0Z"/>
<rect class="lg" x="47.3" y="13.3" width="51" height="59.8"/>
<path class="ln" d="M49.1,19.28h15.6"/>
<path class="mk" d="M57,14.8L58.2,17.04L60.59,17.04L59.4,19.28L60.59,21.52L58.2,21.53L57,23.77L55.8,21.53L53.41,21.52L54.6,19.28L53.41,17.04L55.8,17.04Z"/>
<text class="lt" transform="translate(66.3,22.18) scale(1,1.13)">Standard</text>
<path class="ln" d="M49.1,28.85h15.6"/>
<path class="mk" d="M57,24.37L57.97,27.41L60.95,27.46L58.57,29.4L59.44,32.48L57,30.63L54.56,32.48L55.43,29.4L53.05,27.46L56.03,27.41Z"/>
<text class="lt" transform="translate(66.3,31.75) scale(1,1.13)">Level 55</text>
<path class="ln" d="M49.1,38.42h15.6"/>
<path class="mk" d="M52.4,38.42L60,33.88L60,42.95Z"/>
<text class="lt" transform="translate(66.3,41.32) scale(1,1.13)">Level 65</text>
<path class="ln" d="M49.1,47.98h15.6"/>
<path class="mk" d="M57,52.95L52.8,44.74L61.2,44.74Z"/>
<text class="lt" transform="translate(66.3,50.88) scale(1,1.13)">Level 75</text>
<path class="ln" d="M49.1,57.55h15.6"/>
<path class="mk" d="M53.95,54.42L60.05,54.42L60.05,60.68L53.95,60.68Z"/>
<text class="lt" transform="translate(66.3,60.45) scale(1,1.13)">Level 85</text>
<path class="ln" d="M49.1,67.12h15.6"/>
<path class="mk" d="M53.2,67.12a3.8,4.1 0 1,0 7.6,0a3.8,4.1 0 1,0 -7.6,0Z"/>
<text class="lt" transform="translate(66.3,70.02) scale(1,1.13)">Level 95</text>
<text class="lb" transform="translate(9.9,126) rotate(-90)" text-anchor="middle" textLength="43.2">Ra(µm)</text>
<text class="lb" x="167.5" y="285.1" text-anchor="middle">Sample number</text>
<text class="cp" x="151.4" y="316.1" text-anchor="middle">(a) <tspan font-style="italic">VSI</tspan></text>
<path class="ax" d="M338.5,4.4H591.8V252.8H338.5ZM389.16,252.8v-2.6M389.16,4.4v2.6M439.82,252.8v-2.6M439.82,4.4v2.6M490.48,252.8v-2.6M490.48,4.4v2.6M541.14,252.8v-2.6M541.14,4.4v2.6M338.5,211.4h2.6M591.8,211.4h-2.6M338.5,170h2.6M591.8,170h-2.6M338.5,128.6h2.6M591.8,128.6h-2.6M338.5,87.2h2.6M591.8,87.2h-2.6M338.5,45.8h2.6M591.8,45.8h-2.6"/>
<g class="tk" transform="scale(1,1.07)">
<text x="338.5" y="249.63" text-anchor="middle">0</text>
<text x="389.16" y="249.63" text-anchor="middle">10</text>
<text x="439.82" y="249.63" text-anchor="middle">20</text>
<text x="490.48" y="249.63" text-anchor="middle">30</text>
<text x="541.14" y="249.63" text-anchor="middle">40</text>
<text x="591.8" y="249.63" text-anchor="middle">50</text>
<text x="335.1" y="240.19" text-anchor="end">-15</text>
<text x="335.1" y="201.5" text-anchor="end">-10</text>
<text x="335.1" y="162.8" text-anchor="end">-5</text>
<text x="335.1" y="124.11" text-anchor="end">0</text>
<text x="335.1" y="85.42" text-anchor="end">5</text>
<text x="335.1" y="46.73" text-anchor="end">10</text>
<text x="335.1" y="8.04" text-anchor="end">15</text>
</g>
<path class="ln" d="M343.57,128.48L348.63,128.35L353.7,128.38L358.76,128.41L363.83,128.38L368.9,128.41L373.96,128.35L379.03,128.32L384.09,128.35L389.16,128.23L394.23,128.29L399.29,128.35L404.36,128.32L409.42,128.35L414.49,128.38L419.56,128.41L424.62,128.41L429.69,128.41L434.75,128.35L439.82,128.35L444.89,128.38L449.95,112.87L455.02,128.38L460.08,128.29L465.15,128.35L470.22,128.32L475.28,128.35L480.35,128.1L485.41,128.04L490.48,127.79L495.55,127.67L500.61,127.36L505.68,127.17L510.74,126.67L515.81,125.81L520.88,125.22L525.94,125.09L531.01,124.09L536.07,123.57L541.14,123.2L546.21,122.55L551.27,122.39L556.34,122.27L561.4,122.18L566.47,122.14L571.54,121.97L576.6,121.89L581.67,121.83"/>
<path class="mk" d="M343.57,123.99L344.77,126.23L347.16,126.23L345.97,128.48L347.16,130.72L344.77,130.72L343.57,132.96L342.37,130.72L339.97,130.72L341.17,128.48L339.97,126.23L342.37,126.23ZM348.63,123.87L349.83,126.11L352.23,126.11L351.03,128.35L352.23,130.59L349.83,130.6L348.63,132.83L347.43,130.6L345.04,130.59L346.23,128.35L345.04,126.11L347.43,126.11ZM353.7,123.9L354.9,126.14L357.29,126.14L356.1,128.38L357.29,130.62L354.9,130.63L353.7,132.86L352.5,130.63L350.1,130.62L351.3,128.38L350.1,126.14L352.5,126.14ZM358.76,123.93L359.96,126.17L362.36,126.17L361.16,128.41L362.36,130.65L359.96,130.66L358.76,132.9L357.56,130.66L355.17,130.65L356.36,128.41L355.17,126.17L357.56,126.17ZM363.83,123.9L365.03,126.14L367.42,126.14L366.23,128.38L367.42,130.62L365.03,130.63L363.83,132.86L362.63,130.63L360.24,130.62L361.43,128.38L360.24,126.14L362.63,126.14ZM368.9,123.93L370.1,126.17L372.49,126.17L371.3,128.41L372.49,130.65L370.1,130.66L368.9,132.9L367.7,130.66L365.3,130.65L366.5,128.41L365.3,126.17L367.7,126.17ZM373.96,123.87L375.16,126.11L377.56,126.11L376.36,128.35L377.56,130.59L375.16,130.6L373.96,132.83L372.76,130.6L370.37,130.59L371.56,128.35L370.37,126.11L372.76,126.11ZM379.03,123.84L380.23,126.08L382.62,126.08L381.43,128.32L382.62,130.56L380.23,130.57L379.03,132.8L377.83,130.57L375.43,130.56L376.63,128.32L375.43,126.08L377.83,126.08ZM384.09,123.87L385.29,126.11L387.69,126.11L386.49,128.35L387.69,130.59L385.29,130.6L384.09,132.83L382.89,130.6L380.5,130.59L381.69,128.35L380.5,126.11L382.89,126.11ZM389.16,123.75L390.36,125.98L392.75,125.99L391.56,128.23L392.75,130.47L390.36,130.47L389.16,132.71L387.96,130.47L385.57,130.47L386.76,128.23L385.57,125.99L387.96,125.98ZM394.23,123.81L395.43,126.04L397.82,126.05L396.63,128.29L397.82,130.53L395.43,130.53L394.23,132.77L393.03,130.53L390.63,130.53L391.83,128.29L390.63,126.05L393.03,126.04ZM399.29,123.87L400.49,126.11L402.89,126.11L401.69,128.35L402.89,130.59L400.49,130.6L399.29,132.83L398.09,130.6L395.7,130.59L396.89,128.35L395.7,126.11L398.09,126.11ZM404.36,123.84L405.56,126.08L407.95,126.08L406.76,128.32L407.95,130.56L405.56,130.57L404.36,132.8L403.16,130.57L400.76,130.56L401.96,128.32L400.76,126.08L403.16,126.08ZM409.42,123.87L410.62,126.11L413.02,126.11L411.82,128.35L413.02,130.59L410.62,130.6L409.42,132.83L408.22,130.6L405.83,130.59L407.02,128.35L405.83,126.11L408.22,126.11ZM414.49,123.9L415.69,126.14L418.08,126.14L416.89,128.38L418.08,130.62L415.69,130.63L414.49,132.86L413.29,130.63L410.9,130.62L412.09,128.38L410.9,126.14L413.29,126.14ZM419.56,123.93L420.76,126.17L423.15,126.17L421.96,128.41L423.15,130.65L420.76,130.66L419.56,132.9L418.36,130.66L415.96,130.65L417.16,128.41L415.96,126.17L418.36,126.17ZM424.62,123.93L425.82,126.17L428.22,126.17L427.02,128.41L428.22,130.65L425.82,130.66L424.62,132.9L423.42,130.66L421.03,130.65L422.22,128.41L421.03,126.17L423.42,126.17ZM429.69,123.93L430.89,126.17L433.28,126.17L432.09,128.41L433.28,130.65L430.89,130.66L429.69,132.9L428.49,130.66L426.09,130.65L427.29,128.41L426.09,126.17L428.49,126.17ZM434.75,123.87L435.95,126.11L438.35,126.11L437.15,128.35L438.35,130.59L435.95,130.6L434.75,132.83L433.55,130.6L431.16,130.59L432.35,128.35L431.16,126.11L433.55,126.11ZM439.82,123.87L441.02,126.11L443.41,126.11L442.22,128.35L443.41,130.59L441.02,130.6L439.82,132.83L438.62,130.6L436.23,130.59L437.42,128.35L436.23,126.11L438.62,126.11ZM444.89,123.9L446.09,126.14L448.48,126.14L447.29,128.38L448.48,130.62L446.09,130.63L444.89,132.86L443.69,130.63L441.29,130.62L442.49,128.38L441.29,126.14L443.69,126.14ZM449.95,108.39L451.15,110.62L453.55,110.63L452.35,112.87L453.55,115.11L451.15,115.11L449.95,117.35L448.75,115.11L446.36,115.11L447.55,112.87L446.36,110.63L448.75,110.62ZM455.02,123.9L456.22,126.14L458.61,126.14L457.42,128.38L458.61,130.62L456.22,130.63L455.02,132.86L453.82,130.63L451.42,130.62L452.62,128.38L451.42,126.14L453.82,126.14ZM460.08,123.81L461.28,126.04L463.68,126.05L462.48,128.29L463.68,130.53L461.28,130.53L460.08,132.77L458.88,130.53L456.49,130.53L457.68,128.29L456.49,126.05L458.88,126.04ZM465.15,123.87L466.35,126.11L468.74,126.11L467.55,128.35L468.74,130.59L466.35,130.6L465.15,132.83L463.95,130.6L461.56,130.59L462.75,128.35L461.56,126.11L463.95,126.11ZM470.22,123.84L471.42,126.08L473.81,126.08L472.62,128.32L473.81,130.56L471.42,130.57L470.22,132.8L469.02,130.57L466.62,130.56L467.82,128.32L466.62,126.08L469.02,126.08ZM475.28,123.87L476.48,126.11L478.88,126.11L477.68,128.35L478.88,130.59L476.48,130.6L475.28,132.83L474.08,130.6L471.69,130.59L472.88,128.35L471.69,126.11L474.08,126.11ZM480.35,123.62L481.55,125.86L483.94,125.86L482.75,128.1L483.94,130.34L481.55,130.35L480.35,132.59L479.15,130.35L476.75,130.34L477.95,128.1L476.75,125.86L479.15,125.86ZM485.41,123.56L486.61,125.8L489.01,125.8L487.81,128.04L489.01,130.28L486.61,130.29L485.41,132.52L484.21,130.29L481.82,130.28L483.01,128.04L481.82,125.8L484.21,125.8ZM490.48,123.31L491.68,125.55L494.07,125.55L492.88,127.79L494.07,130.03L491.68,130.04L490.48,132.27L489.28,130.04L486.89,130.03L488.08,127.79L486.89,125.55L489.28,125.55ZM495.55,123.19L496.75,125.42L499.14,125.43L497.95,127.67L499.14,129.91L496.75,129.91L495.55,132.15L494.35,129.91L491.95,129.91L493.15,127.67L491.95,125.43L494.35,125.42ZM500.61,122.88L501.81,125.11L504.21,125.12L503.01,127.36L504.21,129.6L501.81,129.6L500.61,131.84L499.41,129.6L497.02,129.6L498.21,127.36L497.02,125.12L499.41,125.11ZM505.68,122.69L506.88,124.93L509.27,124.93L508.08,127.17L509.27,129.41L506.88,129.42L505.68,131.65L504.48,129.42L502.08,129.41L503.28,127.17L502.08,124.93L504.48,124.93ZM510.74,122.19L511.94,124.43L514.34,124.43L513.14,126.67L514.34,128.92L511.94,128.92L510.74,131.16L509.54,128.92L507.15,128.92L508.34,126.67L507.15,124.43L509.54,124.43ZM515.81,121.32L517.01,123.56L519.4,123.56L518.21,125.81L519.4,128.05L517.01,128.05L515.81,130.29L514.61,128.05L512.22,128.05L513.41,125.81L512.22,123.56L514.61,123.56ZM520.88,120.73L522.08,122.97L524.47,122.97L523.28,125.22L524.47,127.46L522.08,127.46L520.88,129.7L519.68,127.46L517.28,127.46L518.48,125.22L517.28,122.97L519.68,122.97ZM525.94,120.61L527.14,122.85L529.54,122.85L528.34,125.09L529.54,127.33L527.14,127.34L525.94,129.57L524.74,127.34L522.35,127.33L523.54,125.09L522.35,122.85L524.74,122.85ZM531.01,119.6L532.21,121.84L534.6,121.84L533.41,124.09L534.6,126.33L532.21,126.33L531.01,128.57L529.81,126.33L527.41,126.33L528.61,124.09L527.41,121.84L529.81,121.84ZM536.07,119.09L537.27,121.33L539.67,121.33L538.47,123.57L539.67,125.81L537.27,125.81L536.07,128.05L534.87,125.81L532.48,125.81L533.67,123.57L532.48,121.33L534.87,121.33ZM541.14,118.72L542.34,120.95L544.73,120.96L543.54,123.2L544.73,125.44L542.34,125.44L541.14,127.68L539.94,125.44L537.55,125.44L538.74,123.2L537.55,120.96L539.94,120.95ZM546.21,118.06L547.41,120.3L549.8,120.3L548.61,122.55L549.8,124.79L547.41,124.79L546.21,127.03L545.01,124.79L542.61,124.79L543.81,122.55L542.61,120.3L545.01,120.3ZM551.27,117.91L552.47,120.15L554.87,120.15L553.67,122.39L554.87,124.63L552.47,124.63L551.27,126.87L550.07,124.63L547.68,124.63L548.87,122.39L547.68,120.15L550.07,120.15ZM556.34,117.78L557.54,120.02L559.93,120.02L558.74,122.27L559.93,124.51L557.54,124.51L556.34,126.75L555.14,124.51L552.74,124.51L553.94,122.27L552.74,120.02L555.14,120.02ZM561.4,117.7L562.6,119.93L565,119.94L563.8,122.18L565,124.42L562.6,124.42L561.4,126.66L560.2,124.42L557.81,124.42L559,122.18L557.81,119.94L560.2,119.93ZM566.47,117.66L567.67,119.9L570.06,119.9L568.87,122.14L570.06,124.38L567.67,124.39L566.47,126.62L565.27,124.39L562.88,124.38L564.07,122.14L562.88,119.9L565.27,119.9ZM571.54,117.49L572.74,119.73L575.13,119.73L573.94,121.97L575.13,124.21L572.74,124.22L571.54,126.46L570.34,124.22L567.94,124.21L569.14,121.97L567.94,119.73L570.34,119.73ZM576.6,117.41L577.8,119.65L580.2,119.65L579,121.89L580.2,124.13L577.8,124.14L576.6,126.38L575.4,124.14L573.01,124.13L574.2,121.89L573.01,119.65L575.4,119.65ZM581.67,117.35L582.87,119.59L585.26,119.59L584.07,121.83L585.26,124.07L582.87,124.08L581.67,126.31L580.47,124.08L578.07,124.07L579.27,121.83L578.07,119.59L580.47,119.59Z"/>
<path class="ln" d="M343.57,128.03L348.63,127.96L353.7,127.95L358.76,127.89L363.83,127.97L368.9,127.9L373.96,128.26L379.03,128.07L384.09,127.88L389.16,127.98L394.23,127.89L399.29,128.22L404.36,128.07L409.42,128.17L414.49,128.05L419.56,128.04L424.62,128.27L429.69,128.19L434.75,128.15L439.82,127.89L444.89,127.96L449.95,111.38L455.02,127.95L460.08,128.2L465.15,128.01L470.22,129.11L475.28,129.47L480.35,126.98L485.41,128.83L490.48,128.78L495.55,126.6L500.61,126.86L505.68,128.47L510.74,125.27L515.81,105.58L520.88,126.59L525.94,97.96L531.01,124.97L536.07,126.26L541.14,124.69L546.21,124.98L551.27,128.21L556.34,127.85L561.4,120.32L566.47,119.49L571.54,118.66L576.6,116.59L581.67,116.59"/>
<path class="mk" d="M343.57,123.55L344.54,126.59L347.51,126.65L345.14,128.58L346.01,131.66L343.57,129.81L341.13,131.66L342,128.58L339.62,126.65L342.6,126.59ZM348.63,123.48L349.6,126.52L352.58,126.58L350.2,128.51L351.07,131.59L348.63,129.75L346.19,131.59L347.06,128.51L344.69,126.58L347.66,126.52ZM353.7,123.46L354.67,126.5L357.64,126.56L355.27,128.5L356.14,131.57L353.7,129.73L351.26,131.57L352.13,128.5L349.75,126.56L352.73,126.5ZM358.76,123.41L359.73,126.45L362.71,126.51L360.33,128.44L361.2,131.52L358.76,129.67L356.32,131.52L357.19,128.44L354.82,126.51L357.79,126.45ZM363.83,123.49L364.8,126.53L367.78,126.58L365.4,128.52L366.27,131.6L363.83,129.75L361.39,131.6L362.26,128.52L359.88,126.58L362.86,126.53ZM368.9,123.42L369.87,126.46L372.84,126.51L370.47,128.45L371.34,131.52L368.9,129.68L366.46,131.52L367.33,128.45L364.95,126.51L367.93,126.46ZM373.96,123.78L374.93,126.82L377.91,126.87L375.53,128.81L376.4,131.88L373.96,130.04L371.52,131.88L372.39,128.81L370.02,126.87L372.99,126.82ZM379.03,123.59L380,126.63L382.97,126.69L380.6,128.62L381.47,131.7L379.03,129.85L376.59,131.7L377.46,128.62L375.08,126.69L378.06,126.63ZM384.09,123.4L385.06,126.44L388.04,126.49L385.66,128.43L386.53,131.51L384.09,129.66L381.65,131.51L382.52,128.43L380.15,126.49L383.12,126.44ZM389.16,123.5L390.13,126.54L393.11,126.6L390.73,128.53L391.6,131.61L389.16,129.76L386.72,131.61L387.59,128.53L385.21,126.6L388.19,126.54ZM394.23,123.41L395.2,126.45L398.17,126.5L395.8,128.44L396.67,131.51L394.23,129.67L391.79,131.51L392.66,128.44L390.28,126.5L393.26,126.45ZM399.29,123.74L400.26,126.78L403.24,126.84L400.86,128.77L401.73,131.85L399.29,130.01L396.85,131.85L397.72,128.77L395.35,126.84L398.32,126.78ZM404.36,123.59L405.33,126.63L408.3,126.69L405.93,128.62L406.8,131.7L404.36,129.85L401.92,131.7L402.79,128.62L400.41,126.69L403.39,126.63ZM409.42,123.69L410.39,126.73L413.37,126.78L410.99,128.72L411.86,131.79L409.42,129.95L406.98,131.79L407.85,128.72L405.48,126.78L408.45,126.73ZM414.49,123.57L415.46,126.61L418.44,126.67L416.06,128.6L416.93,131.68L414.49,129.83L412.05,131.68L412.92,128.6L410.54,126.67L413.52,126.61ZM419.56,123.56L420.53,126.6L423.5,126.66L421.13,128.59L422,131.67L419.56,129.82L417.12,131.67L417.99,128.59L415.61,126.66L418.59,126.6ZM424.62,123.79L425.59,126.83L428.57,126.89L426.19,128.83L427.06,131.9L424.62,130.06L422.18,131.9L423.05,128.83L420.68,126.89L423.65,126.83ZM429.69,123.71L430.66,126.75L433.63,126.81L431.26,128.74L432.13,131.82L429.69,129.97L427.25,131.82L428.12,128.74L425.74,126.81L428.72,126.75ZM434.75,123.67L435.72,126.71L438.7,126.77L436.32,128.71L437.19,131.78L434.75,129.94L432.31,131.78L433.18,128.71L430.81,126.77L433.78,126.71ZM439.82,123.41L440.79,126.45L443.77,126.51L441.39,128.44L442.26,131.52L439.82,129.67L437.38,131.52L438.25,128.44L435.87,126.51L438.85,126.45ZM444.89,123.48L445.86,126.52L448.83,126.57L446.46,128.51L447.33,131.58L444.89,129.74L442.45,131.58L443.32,128.51L440.94,126.57L443.92,126.52ZM449.95,106.9L450.92,109.94L453.9,109.99L451.52,111.93L452.39,115L449.95,113.16L447.51,115L448.38,111.93L446.01,109.99L448.98,109.94ZM455.02,123.46L455.99,126.5L458.96,126.56L456.59,128.5L457.46,131.57L455.02,129.73L452.58,131.57L453.45,128.5L451.07,126.56L454.05,126.5ZM460.08,123.72L461.05,126.76L464.03,126.82L461.65,128.75L462.52,131.83L460.08,129.99L457.64,131.83L458.51,128.75L456.14,126.82L459.11,126.76ZM465.15,123.53L466.12,126.57L469.1,126.63L466.72,128.57L467.59,131.64L465.15,129.8L462.71,131.64L463.58,128.57L461.2,126.63L464.18,126.57ZM470.22,124.63L471.19,127.67L474.16,127.72L471.79,129.66L472.66,132.74L470.22,130.89L467.78,132.74L468.65,129.66L466.27,127.72L469.25,127.67ZM475.28,124.98L476.25,128.02L479.23,128.08L476.85,130.02L477.72,133.09L475.28,131.25L472.84,133.09L473.71,130.02L471.34,128.08L474.31,128.02ZM480.35,122.5L481.32,125.54L484.29,125.59L481.92,127.53L482.79,130.6L480.35,128.76L477.91,130.6L478.78,127.53L476.4,125.59L479.38,125.54ZM485.41,124.35L486.38,127.39L489.36,127.45L486.98,129.38L487.85,132.46L485.41,130.61L482.97,132.46L483.84,129.38L481.47,127.45L484.44,127.39ZM490.48,124.29L491.45,127.33L494.43,127.39L492.05,129.33L492.92,132.4L490.48,130.56L488.04,132.4L488.91,129.33L486.53,127.39L489.51,127.33ZM495.55,122.11L496.52,125.15L499.49,125.21L497.12,127.15L497.99,130.22L495.55,128.38L493.11,130.22L493.98,127.15L491.6,125.21L494.58,125.15ZM500.61,122.37L501.58,125.41L504.56,125.47L502.18,127.41L503.05,130.48L500.61,128.64L498.17,130.48L499.04,127.41L496.67,125.47L499.64,125.41ZM505.68,123.99L506.65,127.03L509.62,127.08L507.25,129.02L508.12,132.09L505.68,130.25L503.24,132.09L504.11,129.02L501.73,127.08L504.71,127.03ZM510.74,120.79L511.71,123.83L514.69,123.89L512.31,125.82L513.18,128.9L510.74,127.06L508.3,128.9L509.17,125.82L506.8,123.89L509.77,123.83ZM515.81,101.1L516.78,104.14L519.76,104.2L517.38,106.13L518.25,109.21L515.81,107.36L513.37,109.21L514.24,106.13L511.86,104.2L514.84,104.14ZM520.88,122.11L521.85,125.15L524.82,125.2L522.45,127.14L523.32,130.22L520.88,128.37L518.44,130.22L519.31,127.14L516.93,125.2L519.91,125.15ZM525.94,93.48L526.91,96.52L529.89,96.58L527.51,98.51L528.38,101.59L525.94,99.75L523.5,101.59L524.37,98.51L522,96.58L524.97,96.52ZM531.01,120.49L531.98,123.53L534.95,123.59L532.58,125.52L533.45,128.6L531.01,126.75L528.57,128.6L529.44,125.52L527.06,123.59L530.04,123.53ZM536.07,121.77L537.04,124.81L540.02,124.87L537.64,126.81L538.51,129.88L536.07,128.04L533.63,129.88L534.5,126.81L532.13,124.87L535.1,124.81ZM541.14,120.21L542.11,123.25L545.09,123.3L542.71,125.24L543.58,128.32L541.14,126.47L538.7,128.32L539.57,125.24L537.19,123.3L540.17,123.25ZM546.21,120.5L547.18,123.54L550.15,123.6L547.78,125.53L548.65,128.61L546.21,126.76L543.77,128.61L544.64,125.53L542.26,123.6L545.24,123.54ZM551.27,123.73L552.24,126.77L555.22,126.82L552.84,128.76L553.71,131.84L551.27,129.99L548.83,131.84L549.7,128.76L547.33,126.82L550.3,126.77ZM556.34,123.37L557.31,126.41L560.28,126.46L557.91,128.4L558.78,131.47L556.34,129.63L553.9,131.47L554.77,128.4L552.39,126.46L555.37,126.41ZM561.4,115.84L562.37,118.88L565.35,118.93L562.97,120.87L563.84,123.95L561.4,122.1L558.96,123.95L559.83,120.87L557.46,118.93L560.43,118.88ZM566.47,115.01L567.44,118.05L570.42,118.11L568.04,120.04L568.91,123.12L566.47,121.27L564.03,123.12L564.9,120.04L562.52,118.11L565.5,118.05ZM571.54,114.18L572.51,117.22L575.48,117.28L573.11,119.21L573.98,122.29L571.54,120.45L569.1,122.29L569.97,119.21L567.59,117.28L570.57,117.22ZM576.6,112.11L577.57,115.15L580.55,115.21L578.17,117.14L579.04,120.22L576.6,118.38L574.16,120.22L575.03,117.14L572.66,115.21L575.63,115.15ZM581.67,112.11L582.64,115.15L585.61,115.21L583.24,117.14L584.11,120.22L581.67,118.38L579.23,120.22L580.1,117.14L577.72,115.21L580.7,115.15Z"/>
<path class="ln" d="M343.57,128.79L348.63,128.49L353.7,128.63L358.76,128.65L363.83,128.43L368.9,128.58L373.96,128.64L379.03,128.56L384.09,128.48L389.16,128.72L394.23,128.35L399.29,128.76L404.36,128.45L409.42,128.42L414.49,128.76L419.56,128.45L424.62,128.63L429.69,128.54L434.75,128.76L439.82,128.75L444.89,128.7L449.95,10.2L455.02,128.69L460.08,128.44L465.15,128.38L470.22,127.31L475.28,129L480.35,128.93L485.41,124.46L490.48,127.69L495.55,129.55L500.61,127.7L505.68,127.53L510.74,126.33L515.81,142.26L520.88,125.62L525.94,98.54L531.01,128.75L536.07,154.76L541.14,125.45L546.21,128.51L551.27,125.29L556.34,113.45L561.4,128.6L566.47,128.57L571.54,129.3L576.6,129.83L581.67,129.44"/>
<path class="mk" d="M338.97,128.79L346.57,124.25L346.57,133.32ZM344.03,128.49L351.63,123.95L351.63,133.02ZM349.1,128.63L356.7,124.1L356.7,133.17ZM354.16,128.65L361.76,124.11L361.76,133.18ZM359.23,128.43L366.83,123.9L366.83,132.97ZM364.3,128.58L371.9,124.04L371.9,133.11ZM369.36,128.64L376.96,124.1L376.96,133.17ZM374.43,128.56L382.03,124.03L382.03,133.1ZM379.49,128.48L387.09,123.94L387.09,133.01ZM384.56,128.72L392.16,124.19L392.16,133.26ZM389.63,128.35L397.23,123.82L397.23,132.89ZM394.69,128.76L402.29,124.22L402.29,133.29ZM399.76,128.45L407.36,123.92L407.36,132.99ZM404.82,128.42L412.42,123.88L412.42,132.95ZM409.89,128.76L417.49,124.23L417.49,133.3ZM414.96,128.45L422.56,123.92L422.56,132.99ZM420.02,128.63L427.62,124.09L427.62,133.16ZM425.09,128.54L432.69,124L432.69,133.07ZM430.15,128.76L437.75,124.23L437.75,133.3ZM435.22,128.75L442.82,124.21L442.82,133.28ZM440.29,128.7L447.89,124.16L447.89,133.23ZM445.35,10.2L452.95,5.66L452.95,14.73ZM450.42,128.69L458.02,124.15L458.02,133.23ZM455.48,128.44L463.08,123.91L463.08,132.98ZM460.55,128.38L468.15,123.85L468.15,132.92ZM465.62,127.31L473.22,122.77L473.22,131.85ZM470.68,129L478.28,124.46L478.28,133.53ZM475.75,128.93L483.35,124.39L483.35,133.47ZM480.81,124.46L488.41,119.92L488.41,129ZM485.88,127.69L493.48,123.16L493.48,132.23ZM490.95,129.55L498.55,125.02L498.55,134.09ZM496.01,127.7L503.61,123.17L503.61,132.24ZM501.08,127.53L508.68,123L508.68,132.07ZM506.14,126.33L513.74,121.79L513.74,130.86ZM511.21,142.26L518.81,137.73L518.81,146.8ZM516.28,125.62L523.88,121.09L523.88,130.16ZM521.34,98.54L528.94,94.01L528.94,103.08ZM526.41,128.75L534.01,124.21L534.01,133.28ZM531.47,154.76L539.07,150.23L539.07,159.3ZM536.54,125.45L544.14,120.91L544.14,129.99ZM541.61,128.51L549.21,123.97L549.21,133.04ZM546.67,125.29L554.27,120.75L554.27,129.82ZM551.74,113.45L559.34,108.91L559.34,117.98ZM556.8,128.6L564.4,124.06L564.4,133.13ZM561.87,128.57L569.47,124.03L569.47,133.1ZM566.94,129.3L574.54,124.77L574.54,133.84ZM572,129.83L579.6,125.3L579.6,134.37ZM577.07,129.44L584.67,124.9L584.67,133.97Z"/>
<path class="ln" d="M343.57,129L348.63,128.85L353.7,129.2L358.76,129.25L363.83,128.86L368.9,129.05L373.96,129.1L379.03,129.16L384.09,129.02L389.16,128.9L394.23,129.07L399.29,129.09L404.36,129.24L409.42,128.88L414.49,129.26L419.56,129.07L424.62,128.93L429.69,129.22L434.75,128.96L439.82,128.87L444.89,129.01L449.95,128.94L455.02,129.22L460.08,129.07L465.15,129.2L470.22,128.08L475.28,129.63L480.35,129.15L485.41,127.6L490.48,138.2L495.55,127.61L500.61,129.03L505.68,128.9L510.74,119.49L515.81,147.31L520.88,129.7L525.94,93L531.01,130.31L536.07,128.96L541.14,125.56L546.21,125.62L551.27,127.41L556.34,137.71L561.4,128.95L566.47,130.31L571.54,129.28L576.6,126.48L581.67,126.01"/>
<path class="mk" d="M343.57,133.97L339.37,125.76L347.77,125.76ZM348.63,133.82L344.43,125.61L352.83,125.61ZM353.7,134.17L349.5,125.96L357.9,125.96ZM358.76,134.22L354.56,126.01L362.96,126.01ZM363.83,133.83L359.63,125.62L368.03,125.62ZM368.9,134.02L364.7,125.81L373.1,125.81ZM373.96,134.06L369.76,125.86L378.16,125.86ZM379.03,134.13L374.83,125.92L383.23,125.92ZM384.09,133.99L379.89,125.78L388.29,125.78ZM389.16,133.87L384.96,125.66L393.36,125.66ZM394.23,134.03L390.03,125.83L398.43,125.83ZM399.29,134.06L395.09,125.85L403.49,125.85ZM404.36,134.2L400.16,126L408.56,126ZM409.42,133.85L405.22,125.64L413.62,125.64ZM414.49,134.22L410.29,126.02L418.69,126.02ZM419.56,134.04L415.36,125.83L423.76,125.83ZM424.62,133.89L420.42,125.69L428.82,125.69ZM429.69,134.19L425.49,125.98L433.89,125.98ZM434.75,133.93L430.55,125.72L438.95,125.72ZM439.82,133.84L435.62,125.63L444.02,125.63ZM444.89,133.98L440.69,125.77L449.09,125.77ZM449.95,133.91L445.75,125.7L454.15,125.7ZM455.02,134.19L450.82,125.98L459.22,125.98ZM460.08,134.04L455.88,125.83L464.28,125.83ZM465.15,134.17L460.95,125.96L469.35,125.96ZM470.22,133.05L466.02,124.84L474.42,124.84ZM475.28,134.6L471.08,126.39L479.48,126.39ZM480.35,134.12L476.15,125.91L484.55,125.91ZM485.41,132.57L481.21,124.36L489.61,124.36ZM490.48,143.17L486.28,134.96L494.68,134.96ZM495.55,132.58L491.35,124.37L499.75,124.37ZM500.61,134L496.41,125.79L504.81,125.79ZM505.68,133.87L501.48,125.66L509.88,125.66ZM510.74,124.46L506.54,116.25L514.94,116.25ZM515.81,152.28L511.61,144.07L520.01,144.07ZM520.88,134.67L516.68,126.46L525.08,126.46ZM525.94,97.96L521.74,89.76L530.14,89.76ZM531.01,135.27L526.81,127.07L535.21,127.07ZM536.07,133.93L531.87,125.72L540.27,125.72ZM541.14,130.53L536.94,122.32L545.34,122.32ZM546.21,130.58L542.01,122.38L550.41,122.38ZM551.27,132.38L547.07,124.17L555.47,124.17ZM556.34,142.68L552.14,134.47L560.54,134.47ZM561.4,133.92L557.2,125.71L565.6,125.71ZM566.47,135.28L562.27,127.07L570.67,127.07ZM571.54,134.25L567.34,126.04L575.74,126.04ZM576.6,131.45L572.4,123.24L580.8,123.24ZM581.67,130.97L577.47,122.77L585.87,122.77Z"/>
<path class="ln" d="M343.57,128.64L348.63,128.44L353.7,128.45L358.76,128.49L363.83,128.5L368.9,128.46L373.96,128.62L379.03,128.47L384.09,128.65L389.16,128.55L394.23,128.44L399.29,128.48L404.36,128.64L409.42,128.38L414.49,128.5L419.56,128.54L424.62,128.77L429.69,128.55L434.75,128.66L439.82,128.49L444.89,128.58L449.95,116.68L455.02,128.5L460.08,128.43L465.15,128.62L470.22,128.15L475.28,127.89L480.35,127.6L485.41,128.93L490.48,121.15L495.55,127.41L500.61,133.73L505.68,127.03L510.74,125.8L515.81,128.05L520.88,127.9L525.94,129.86L531.01,126.04L536.07,125.4L541.14,127.86L546.21,126.59L551.27,126.41L556.34,126.33L561.4,129.37L566.47,126.03L571.54,127.1L576.6,126.62L581.67,127.95"/>
<path class="mk" d="M340.52,125.51L346.62,125.51L346.62,131.77L340.52,131.77ZM345.58,125.31L351.68,125.31L351.68,131.57L345.58,131.57ZM350.65,125.32L356.75,125.32L356.75,131.58L350.65,131.58ZM355.71,125.36L361.81,125.36L361.81,131.62L355.71,131.62ZM360.78,125.37L366.88,125.37L366.88,131.63L360.78,131.63ZM365.85,125.33L371.95,125.33L371.95,131.59L365.85,131.59ZM370.91,125.48L377.01,125.48L377.01,131.75L370.91,131.75ZM375.98,125.34L382.08,125.34L382.08,131.6L375.98,131.6ZM381.04,125.52L387.14,125.52L387.14,131.78L381.04,131.78ZM386.11,125.41L392.21,125.41L392.21,131.68L386.11,131.68ZM391.18,125.31L397.28,125.31L397.28,131.57L391.18,131.57ZM396.24,125.35L402.34,125.35L402.34,131.61L396.24,131.61ZM401.31,125.51L407.41,125.51L407.41,131.77L401.31,131.77ZM406.37,125.24L412.47,125.24L412.47,131.51L406.37,131.51ZM411.44,125.37L417.54,125.37L417.54,131.64L411.44,131.64ZM416.51,125.4L422.61,125.4L422.61,131.67L416.51,131.67ZM421.57,125.64L427.67,125.64L427.67,131.9L421.57,131.9ZM426.64,125.42L432.74,125.42L432.74,131.68L426.64,131.68ZM431.7,125.53L437.8,125.53L437.8,131.8L431.7,131.8ZM436.77,125.36L442.87,125.36L442.87,131.62L436.77,131.62ZM441.84,125.45L447.94,125.45L447.94,131.71L441.84,131.71ZM446.9,113.54L453,113.54L453,119.81L446.9,119.81ZM451.97,125.37L458.07,125.37L458.07,131.64L451.97,131.64ZM457.03,125.3L463.13,125.3L463.13,131.56L457.03,131.56ZM462.1,125.49L468.2,125.49L468.2,131.76L462.1,131.76ZM467.17,125.02L473.27,125.02L473.27,131.28L467.17,131.28ZM472.23,124.76L478.33,124.76L478.33,131.02L472.23,131.02ZM477.3,124.46L483.4,124.46L483.4,130.73L477.3,130.73ZM482.36,125.8L488.46,125.8L488.46,132.06L482.36,132.06ZM487.43,118.02L493.53,118.02L493.53,124.28L487.43,124.28ZM492.5,124.28L498.6,124.28L498.6,130.54L492.5,130.54ZM497.56,130.6L503.66,130.6L503.66,136.87L497.56,136.87ZM502.63,123.9L508.73,123.9L508.73,130.16L502.63,130.16ZM507.69,122.67L513.79,122.67L513.79,128.93L507.69,128.93ZM512.76,124.92L518.86,124.92L518.86,131.19L512.76,131.19ZM517.83,124.77L523.93,124.77L523.93,131.03L517.83,131.03ZM522.89,126.73L528.99,126.73L528.99,132.99L522.89,132.99ZM527.96,122.91L534.06,122.91L534.06,129.17L527.96,129.17ZM533.02,122.27L539.12,122.27L539.12,128.54L533.02,128.54ZM538.09,124.73L544.19,124.73L544.19,130.99L538.09,130.99ZM543.16,123.45L549.26,123.45L549.26,129.72L543.16,129.72ZM548.22,123.27L554.32,123.27L554.32,129.54L548.22,129.54ZM553.29,123.2L559.39,123.2L559.39,129.46L553.29,129.46ZM558.35,126.23L564.45,126.23L564.45,132.5L558.35,132.5ZM563.42,122.9L569.52,122.9L569.52,129.17L563.42,129.17ZM568.49,123.97L574.59,123.97L574.59,130.23L568.49,130.23ZM573.55,123.49L579.65,123.49L579.65,129.75L573.55,129.75ZM578.62,124.82L584.72,124.82L584.72,131.08L578.62,131.08Z"/>
<path class="ln" d="M343.57,128.53L348.63,128.45L353.7,128.51L358.76,128.48L363.83,128.76L368.9,128.71L373.96,128.58L379.03,128.49L384.09,128.68L389.16,128.46L394.23,128.5L399.29,128.75L404.36,128.57L409.42,128.67L414.49,128.75L419.56,128.72L424.62,122.39L429.69,128.7L434.75,128.69L439.82,128.75L444.89,128.58L449.95,218.02L455.02,128.52L460.08,128.51L465.15,128.67L470.22,127.42L475.28,129.97L480.35,128.79L485.41,129.13L490.48,128.72L495.55,129.53L500.61,127.47L505.68,128.73L510.74,130.83L515.81,127.53L520.88,119.49L525.94,221.34L531.01,121.15L536.07,127.35L541.14,125.23L546.21,125.89L551.27,128.05L556.34,142.68L561.4,126.79L566.47,98.79L571.54,129.5L576.6,127L581.67,127.17"/>
<path class="mk" d="M339.77,128.53a3.8,4.1 0 1,0 7.6,0a3.8,4.1 0 1,0 -7.6,0ZM344.83,128.45a3.8,4.1 0 1,0 7.6,0a3.8,4.1 0 1,0 -7.6,0ZM349.9,128.51a3.8,4.1 0 1,0 7.6,0a3.8,4.1 0 1,0 -7.6,0ZM354.96,128.48a3.8,4.1 0 1,0 7.6,0a3.8,4.1 0 1,0 -7.6,0ZM360.03,128.76a3.8,4.1 0 1,0 7.6,0a3.8,4.1 0 1,0 -7.6,0ZM365.1,128.71a3.8,4.1 0 1,0 7.6,0a3.8,4.1 0 1,0 -7.6,0ZM370.16,128.58a3.8,4.1 0 1,0 7.6,0a3.8,4.1 0 1,0 -7.6,0ZM375.23,128.49a3.8,4.1 0 1,0 7.6,0a3.8,4.1 0 1,0 -7.6,0ZM380.29,128.68a3.8,4.1 0 1,0 7.6,0a3.8,4.1 0 1,0 -7.6,0ZM385.36,128.46a3.8,4.1 0 1,0 7.6,0a3.8,4.1 0 1,0 -7.6,0ZM390.43,128.5a3.8,4.1 0 1,0 7.6,0a3.8,4.1 0 1,0 -7.6,0ZM395.49,128.75a3.8,4.1 0 1,0 7.6,0a3.8,4.1 0 1,0 -7.6,0ZM400.56,128.57a3.8,4.1 0 1,0 7.6,0a3.8,4.1 0 1,0 -7.6,0ZM405.62,128.67a3.8,4.1 0 1,0 7.6,0a3.8,4.1 0 1,0 -7.6,0ZM410.69,128.75a3.8,4.1 0 1,0 7.6,0a3.8,4.1 0 1,0 -7.6,0ZM415.76,128.72a3.8,4.1 0 1,0 7.6,0a3.8,4.1 0 1,0 -7.6,0ZM420.82,122.39a3.8,4.1 0 1,0 7.6,0a3.8,4.1 0 1,0 -7.6,0ZM425.89,128.7a3.8,4.1 0 1,0 7.6,0a3.8,4.1 0 1,0 -7.6,0ZM430.95,128.69a3.8,4.1 0 1,0 7.6,0a3.8,4.1 0 1,0 -7.6,0ZM436.02,128.75a3.8,4.1 0 1,0 7.6,0a3.8,4.1 0 1,0 -7.6,0ZM441.09,128.58a3.8,4.1 0 1,0 7.6,0a3.8,4.1 0 1,0 -7.6,0ZM446.15,218.02a3.8,4.1 0 1,0 7.6,0a3.8,4.1 0 1,0 -7.6,0ZM451.22,128.52a3.8,4.1 0 1,0 7.6,0a3.8,4.1 0 1,0 -7.6,0ZM456.28,128.51a3.8,4.1 0 1,0 7.6,0a3.8,4.1 0 1,0 -7.6,0ZM461.35,128.67a3.8,4.1 0 1,0 7.6,0a3.8,4.1 0 1,0 -7.6,0ZM466.42,127.42a3.8,4.1 0 1,0 7.6,0a3.8,4.1 0 1,0 -7.6,0ZM471.48,129.97a3.8,4.1 0 1,0 7.6,0a3.8,4.1 0 1,0 -7.6,0ZM476.55,128.79a3.8,4.1 0 1,0 7.6,0a3.8,4.1 0 1,0 -7.6,0ZM481.61,129.13a3.8,4.1 0 1,0 7.6,0a3.8,4.1 0 1,0 -7.6,0ZM486.68,128.72a3.8,4.1 0 1,0 7.6,0a3.8,4.1 0 1,0 -7.6,0ZM491.75,129.53a3.8,4.1 0 1,0 7.6,0a3.8,4.1 0 1,0 -7.6,0ZM496.81,127.47a3.8,4.1 0 1,0 7.6,0a3.8,4.1 0 1,0 -7.6,0ZM501.88,128.73a3.8,4.1 0 1,0 7.6,0a3.8,4.1 0 1,0 -7.6,0ZM506.94,130.83a3.8,4.1 0 1,0 7.6,0a3.8,4.1 0 1,0 -7.6,0ZM512.01,127.53a3.8,4.1 0 1,0 7.6,0a3.8,4.1 0 1,0 -7.6,0ZM517.08,119.49a3.8,4.1 0 1,0 7.6,0a3.8,4.1 0 1,0 -7.6,0ZM522.14,221.34a3.8,4.1 0 1,0 7.6,0a3.8,4.1 0 1,0 -7.6,0ZM527.21,121.15a3.8,4.1 0 1,0 7.6,0a3.8,4.1 0 1,0 -7.6,0ZM532.27,127.35a3.8,4.1 0 1,0 7.6,0a3.8,4.1 0 1,0 -7.6,0ZM537.34,125.23a3.8,4.1 0 1,0 7.6,0a3.8,4.1 0 1,0 -7.6,0ZM542.41,125.89a3.8,4.1 0 1,0 7.6,0a3.8,4.1 0 1,0 -7.6,0ZM547.47,128.05a3.8,4.1 0 1,0 7.6,0a3.8,4.1 0 1,0 -7.6,0ZM552.54,142.68a3.8,4.1 0 1,0 7.6,0a3.8,4.1 0 1,0 -7.6,0ZM557.6,126.79a3.8,4.1 0 1,0 7.6,0a3.8,4.1 0 1,0 -7.6,0ZM562.67,98.79a3.8,4.1 0 1,0 7.6,0a3.8,4.1 0 1,0 -7.6,0ZM567.74,129.5a3.8,4.1 0 1,0 7.6,0a3.8,4.1 0 1,0 -7.6,0ZM572.8,127a3.8,4.1 0 1,0 7.6,0a3.8,4.1 0 1,0 -7.6,0ZM577.87,127.17a3.8,4.1 0 1,0 7.6,0a3.8,4.1 0 1,0 -7.6,0Z"/>
<rect class="lg" x="348.2" y="12.8" width="50.8" height="60"/>
<path class="ln" d="M350,18.8h15.6"/>
<path class="mk" d="M357.9,14.32L359.1,16.56L361.49,16.56L360.3,18.8L361.49,21.04L359.1,21.04L357.9,23.28L356.7,21.04L354.31,21.04L355.5,18.8L354.31,16.56L356.7,16.56Z"/>
<text class="lt" transform="translate(367.2,21.7) scale(1,1.13)">Standard</text>
<path class="ln" d="M350,28.4h15.6"/>
<path class="mk" d="M357.9,23.92L358.87,26.96L361.85,27.01L359.47,28.95L360.34,32.03L357.9,30.18L355.46,32.03L356.33,28.95L353.95,27.01L356.93,26.96Z"/>
<text class="lt" transform="translate(367.2,31.3) scale(1,1.13)">Level 55</text>
<path class="ln" d="M350,38h15.6"/>
<path class="mk" d="M353.3,38L360.9,33.46L360.9,42.54Z"/>
<text class="lt" transform="translate(367.2,40.9) scale(1,1.13)">Level 65</text>
<path class="ln" d="M350,47.6h15.6"/>
<path class="mk" d="M357.9,52.57L353.7,44.36L362.1,44.36Z"/>
<text class="lt" transform="translate(367.2,50.5) scale(1,1.13)">Level 75</text>
<path class="ln" d="M350,57.2h15.6"/>
<path class="mk" d="M354.85,54.07L360.95,54.07L360.95,60.33L354.85,60.33Z"/>
<text class="lt" transform="translate(367.2,60.1) scale(1,1.13)">Level 85</text>
<path class="ln" d="M350,66.8h15.6"/>
<path class="mk" d="M354.1,66.8a3.8,4.1 0 1,0 7.6,0a3.8,4.1 0 1,0 -7.6,0Z"/>
<text class="lt" transform="translate(367.2,69.7) scale(1,1.13)">Level 95</text>
<text class="lb" transform="translate(317.5,138.9) rotate(-90)" text-anchor="middle" textLength="43.2">Ra(µm)</text>
<text class="lb" x="469.5" y="282" text-anchor="middle">Sample number</text>
<text class="cp" x="470" y="316.5" text-anchor="middle">(b) <tspan font-style="italic">RMD</tspan></text>
<path class="ax" d="M32.2,343.1H291.3V592.9H32.2ZM84.02,592.9v-2.6M84.02,343.1v2.6M135.84,592.9v-2.6M135.84,343.1v2.6M187.66,592.9v-2.6M187.66,343.1v2.6M239.48,592.9v-2.6M239.48,343.1v2.6M32.2,565.14h2.6M291.3,565.14h-2.6M32.2,537.39h2.6M291.3,537.39h-2.6M32.2,509.63h2.6M291.3,509.63h-2.6M32.2,481.88h2.6M291.3,481.88h-2.6M32.2,454.12h2.6M291.3,454.12h-2.6M32.2,426.37h2.6M291.3,426.37h-2.6M32.2,398.61h2.6M291.3,398.61h-2.6M32.2,370.86h2.6M291.3,370.86h-2.6"/>
<g class="tk" transform="scale(1,1.07)">
<text x="32.2" y="567.48" text-anchor="middle">0</text>
<text x="84.02" y="567.48" text-anchor="middle">10</text>
<text x="135.84" y="567.48" text-anchor="middle">20</text>
<text x="187.66" y="567.48" text-anchor="middle">30</text>
<text x="239.48" y="567.48" text-anchor="middle">40</text>
<text x="291.3" y="567.48" text-anchor="middle">50</text>
<text x="28.8" y="558.04" text-anchor="end">0</text>
<text x="28.8" y="532.1" text-anchor="end">0.2</text>
<text x="28.8" y="506.16" text-anchor="end">0.4</text>
<text x="28.8" y="480.22" text-anchor="end">0.6</text>
<text x="28.8" y="454.28" text-anchor="end">0.8</text>
<text x="28.8" y="428.34" text-anchor="end">1</text>
<text x="28.8" y="402.4" text-anchor="end">1.2</text>
<text x="28.8" y="376.46" text-anchor="end">1.4</text>
<text x="28.8" y="350.52" text-anchor="end">1.6</text>
<text x="28.8" y="324.58" text-anchor="end">1.8</text>
</g>
<path class="ln" d="M37.38,588.04L42.56,587.35L47.75,588.04L52.93,588.74L58.11,588.04L63.29,588.74L68.47,587.35L73.66,586.65L78.84,585.96L84.02,583.19L89.2,581.8L94.38,587.35L99.57,589.43L104.75,587.35L109.93,588.04L115.11,588.74L120.29,588.74L125.48,588.74L130.66,587.35L135.84,587.35L141.02,588.04L146.2,587.35L151.39,583.19L156.57,580.41L161.75,581.1L166.93,582.49L172.11,581.8L177.3,577.63L182.48,576.25L187.66,565.14L192.84,572.08L198.02,547.1L203.21,562.37L208.39,549.88L213.57,523.51L218.75,509.63L223.93,504.08L229.12,492.01L234.3,480.49L239.48,472.16L244.66,457.59L249.84,454.12L255.03,451.35L260.21,449.4L265.39,448.57L270.57,441.63L275.75,412.49L280.94,415.26"/>
<path class="mk" d="M37.38,583.56L38.58,585.8L40.98,585.8L39.78,588.04L40.98,590.28L38.58,590.29L37.38,592.52L36.18,590.29L33.79,590.28L34.98,588.04L33.79,585.8L36.18,585.8ZM42.56,582.87L43.76,585.1L46.16,585.11L44.96,587.35L46.16,589.59L43.76,589.59L42.56,591.83L41.36,589.59L38.97,589.59L40.16,587.35L38.97,585.11L41.36,585.1ZM47.75,583.56L48.95,585.8L51.34,585.8L50.15,588.04L51.34,590.28L48.95,590.29L47.75,592.52L46.55,590.29L44.15,590.28L45.35,588.04L44.15,585.8L46.55,585.8ZM52.93,584.25L54.13,586.49L56.52,586.5L55.33,588.74L56.52,590.98L54.13,590.98L52.93,593.22L51.73,590.98L49.33,590.98L50.53,588.74L49.33,586.5L51.73,586.49ZM58.11,583.56L59.31,585.8L61.7,585.8L60.51,588.04L61.7,590.28L59.31,590.29L58.11,592.52L56.91,590.29L54.52,590.28L55.71,588.04L54.52,585.8L56.91,585.8ZM63.29,584.25L64.49,586.49L66.89,586.5L65.69,588.74L66.89,590.98L64.49,590.98L63.29,593.22L62.09,590.98L59.7,590.98L60.89,588.74L59.7,586.5L62.09,586.49ZM68.47,582.87L69.67,585.1L72.07,585.11L70.87,587.35L72.07,589.59L69.67,589.59L68.47,591.83L67.27,589.59L64.88,589.59L66.07,587.35L64.88,585.11L67.27,585.1ZM73.66,582.17L74.86,584.41L77.25,584.41L76.06,586.65L77.25,588.9L74.86,588.9L73.66,591.14L72.46,588.9L70.06,588.9L71.26,586.65L70.06,584.41L72.46,584.41ZM78.84,581.48L80.04,583.72L82.43,583.72L81.24,585.96L82.43,588.2L80.04,588.21L78.84,590.44L77.64,588.21L75.24,588.2L76.44,585.96L75.24,583.72L77.64,583.72ZM84.02,578.7L85.22,580.94L87.61,580.94L86.42,583.19L87.61,585.43L85.22,585.43L84.02,587.67L82.82,585.43L80.43,585.43L81.62,583.19L80.43,580.94L82.82,580.94ZM89.2,577.32L90.4,579.55L92.8,579.56L91.6,581.8L92.8,584.04L90.4,584.04L89.2,586.28L88,584.04L85.61,584.04L86.8,581.8L85.61,579.56L88,579.55ZM94.38,582.87L95.58,585.1L97.98,585.11L96.78,587.35L97.98,589.59L95.58,589.59L94.38,591.83L93.18,589.59L90.79,589.59L91.98,587.35L90.79,585.11L93.18,585.1ZM99.57,584.95L100.77,587.19L103.16,587.19L101.97,589.43L103.16,591.67L100.77,591.68L99.57,593.91L98.37,591.68L95.97,591.67L97.17,589.43L95.97,587.19L98.37,587.19ZM104.75,582.87L105.95,585.1L108.34,585.11L107.15,587.35L108.34,589.59L105.95,589.59L104.75,591.83L103.55,589.59L101.15,589.59L102.35,587.35L101.15,585.11L103.55,585.1ZM109.93,583.56L111.13,585.8L113.52,585.8L112.33,588.04L113.52,590.28L111.13,590.29L109.93,592.52L108.73,590.29L106.34,590.28L107.53,588.04L106.34,585.8L108.73,585.8ZM115.11,584.25L116.31,586.49L118.71,586.5L117.51,588.74L118.71,590.98L116.31,590.98L115.11,593.22L113.91,590.98L111.52,590.98L112.71,588.74L111.52,586.5L113.91,586.49ZM120.29,584.25L121.49,586.49L123.89,586.5L122.69,588.74L123.89,590.98L121.49,590.98L120.29,593.22L119.09,590.98L116.7,590.98L117.89,588.74L116.7,586.5L119.09,586.49ZM125.48,584.25L126.68,586.49L129.07,586.5L127.88,588.74L129.07,590.98L126.68,590.98L125.48,593.22L124.28,590.98L121.88,590.98L123.08,588.74L121.88,586.5L124.28,586.49ZM130.66,582.87L131.86,585.1L134.25,585.11L133.06,587.35L134.25,589.59L131.86,589.59L130.66,591.83L129.46,589.59L127.06,589.59L128.26,587.35L127.06,585.11L129.46,585.1ZM135.84,582.87L137.04,585.1L139.43,585.11L138.24,587.35L139.43,589.59L137.04,589.59L135.84,591.83L134.64,589.59L132.25,589.59L133.44,587.35L132.25,585.11L134.64,585.1ZM141.02,583.56L142.22,585.8L144.62,585.8L143.42,588.04L144.62,590.28L142.22,590.29L141.02,592.52L139.82,590.29L137.43,590.28L138.62,588.04L137.43,585.8L139.82,585.8ZM146.2,582.87L147.4,585.1L149.8,585.11L148.6,587.35L149.8,589.59L147.4,589.59L146.2,591.83L145,589.59L142.61,589.59L143.8,587.35L142.61,585.11L145,585.1ZM151.39,578.7L152.59,580.94L154.98,580.94L153.79,583.19L154.98,585.43L152.59,585.43L151.39,587.67L150.19,585.43L147.79,585.43L148.99,583.19L147.79,580.94L150.19,580.94ZM156.57,575.93L157.77,578.17L160.16,578.17L158.97,580.41L160.16,582.65L157.77,582.65L156.57,584.89L155.37,582.65L152.97,582.65L154.17,580.41L152.97,578.17L155.37,578.17ZM161.75,576.62L162.95,578.86L165.34,578.86L164.15,581.1L165.34,583.34L162.95,583.35L161.75,585.59L160.55,583.35L158.16,583.34L159.35,581.1L158.16,578.86L160.55,578.86ZM166.93,578.01L168.13,580.25L170.53,580.25L169.33,582.49L170.53,584.73L168.13,584.74L166.93,586.97L165.73,584.74L163.34,584.73L164.53,582.49L163.34,580.25L165.73,580.25ZM172.11,577.32L173.31,579.55L175.71,579.56L174.51,581.8L175.71,584.04L173.31,584.04L172.11,586.28L170.91,584.04L168.52,584.04L169.71,581.8L168.52,579.56L170.91,579.55ZM177.3,573.15L178.5,575.39L180.89,575.39L179.7,577.63L180.89,579.88L178.5,579.88L177.3,582.12L176.1,579.88L173.7,579.88L174.9,577.63L173.7,575.39L176.1,575.39ZM182.48,571.76L183.68,574L186.07,574.01L184.88,576.25L186.07,578.49L183.68,578.49L182.48,580.73L181.28,578.49L178.88,578.49L180.08,576.25L178.88,574.01L181.28,574ZM187.66,560.66L188.86,562.9L191.25,562.9L190.06,565.14L191.25,567.39L188.86,567.39L187.66,569.63L186.46,567.39L184.07,567.39L185.26,565.14L184.07,562.9L186.46,562.9ZM192.84,567.6L194.04,569.84L196.44,569.84L195.24,572.08L196.44,574.32L194.04,574.33L192.84,576.57L191.64,574.33L189.25,574.32L190.44,572.08L189.25,569.84L191.64,569.84ZM198.02,542.62L199.22,544.86L201.62,544.86L200.42,547.1L201.62,549.34L199.22,549.35L198.02,551.59L196.82,549.35L194.43,549.34L195.62,547.1L194.43,544.86L196.82,544.86ZM203.21,557.89L204.41,560.12L206.8,560.13L205.61,562.37L206.8,564.61L204.41,564.61L203.21,566.85L202.01,564.61L199.61,564.61L200.81,562.37L199.61,560.13L202.01,560.12ZM208.39,545.4L209.59,547.63L211.98,547.64L210.79,549.88L211.98,552.12L209.59,552.12L208.39,554.36L207.19,552.12L204.79,552.12L205.99,549.88L204.79,547.64L207.19,547.63ZM213.57,519.03L214.77,521.27L217.16,521.27L215.97,523.51L217.16,525.75L214.77,525.76L213.57,527.99L212.37,525.76L209.98,525.75L211.17,523.51L209.98,521.27L212.37,521.27ZM218.75,505.15L219.95,507.39L222.35,507.39L221.15,509.63L222.35,511.87L219.95,511.88L218.75,514.12L217.55,511.88L215.16,511.87L216.35,509.63L215.16,507.39L217.55,507.39ZM223.93,499.6L225.13,501.84L227.53,501.84L226.33,504.08L227.53,506.32L225.13,506.33L223.93,508.56L222.73,506.33L220.34,506.32L221.53,504.08L220.34,501.84L222.73,501.84ZM229.12,487.53L230.32,489.76L232.71,489.77L231.52,492.01L232.71,494.25L230.32,494.25L229.12,496.49L227.92,494.25L225.52,494.25L226.72,492.01L225.52,489.77L227.92,489.76ZM234.3,476.01L235.5,478.25L237.89,478.25L236.7,480.49L237.89,482.73L235.5,482.73L234.3,484.97L233.1,482.73L230.7,482.73L231.9,480.49L230.7,478.25L233.1,478.25ZM239.48,467.68L240.68,469.92L243.07,469.92L241.88,472.16L243.07,474.4L240.68,474.41L239.48,476.65L238.28,474.41L235.89,474.4L237.08,472.16L235.89,469.92L238.28,469.92ZM244.66,453.11L245.86,455.35L248.26,455.35L247.06,457.59L248.26,459.83L245.86,459.84L244.66,462.07L243.46,459.84L241.07,459.83L242.26,457.59L241.07,455.35L243.46,455.35ZM249.84,449.64L251.04,451.88L253.44,451.88L252.24,454.12L253.44,456.36L251.04,456.37L249.84,458.6L248.64,456.37L246.25,456.36L247.44,454.12L246.25,451.88L248.64,451.88ZM255.03,446.86L256.23,449.1L258.62,449.11L257.43,451.35L258.62,453.59L256.23,453.59L255.03,455.83L253.83,453.59L251.43,453.59L252.63,451.35L251.43,449.11L253.83,449.1ZM260.21,444.92L261.41,447.16L263.8,447.16L262.61,449.4L263.8,451.64L261.41,451.65L260.21,453.89L259.01,451.65L256.61,451.64L257.81,449.4L256.61,447.16L259.01,447.16ZM265.39,444.09L266.59,446.33L268.98,446.33L267.79,448.57L268.98,450.81L266.59,450.82L265.39,453.05L264.19,450.82L261.8,450.81L262.99,448.57L261.8,446.33L264.19,446.33ZM270.57,437.15L271.77,439.39L274.17,439.39L272.97,441.63L274.17,443.87L271.77,443.88L270.57,446.11L269.37,443.88L266.98,443.87L268.17,441.63L266.98,439.39L269.37,439.39ZM275.75,408.01L276.95,410.24L279.35,410.25L278.15,412.49L279.35,414.73L276.95,414.73L275.75,416.97L274.55,414.73L272.16,414.73L273.35,412.49L272.16,410.25L274.55,410.24ZM280.94,410.78L282.14,413.02L284.53,413.02L283.34,415.26L284.53,417.51L282.14,417.51L280.94,419.75L279.74,417.51L277.34,417.51L278.54,415.26L277.34,413.02L279.74,413.02Z"/>
<path class="ln" d="M37.38,586.4L42.56,588.96L47.75,588.85L52.93,588.98L58.11,588.91L63.29,588.21L68.47,589.2L73.66,588.12L78.84,583.73L84.02,582.41L89.2,579.19L94.38,587.08L99.57,589.87L104.75,588.06L109.93,588.43L115.11,588.71L120.29,573.11L125.48,588.81L130.66,587.18L135.84,585.05L141.02,583.55L146.2,563.8L151.39,581.84L156.57,576.99L161.75,579.4L166.93,581.61L172.11,580.82L177.3,576.51L182.48,574.18L187.66,556.58L192.84,571.97L198.02,537.67L203.21,563.48L208.39,549.83L213.57,523.59L218.75,505.04L223.93,500.23L229.12,455.7L234.3,518.53L239.48,444.68L244.66,424.75L249.84,420.33L255.03,388.47L260.21,492.67L265.39,454.48L270.57,440.67L275.75,387.96L280.94,404.16"/>
<path class="mk" d="M37.38,581.92L38.35,584.96L41.33,585.01L38.95,586.95L39.82,590.02L37.38,588.18L34.94,590.02L35.81,586.95L33.44,585.01L36.41,584.96ZM42.56,584.48L43.53,587.52L46.51,587.58L44.13,589.51L45,592.59L42.56,590.75L40.12,592.59L40.99,589.51L38.62,587.58L41.59,587.52ZM47.75,584.37L48.72,587.41L51.69,587.47L49.32,589.4L50.19,592.48L47.75,590.63L45.31,592.48L46.18,589.4L43.8,587.47L46.78,587.41ZM52.93,584.5L53.9,587.54L56.87,587.59L54.5,589.53L55.37,592.61L52.93,590.76L50.49,592.61L51.36,589.53L48.98,587.59L51.96,587.54ZM58.11,584.43L59.08,587.47L62.06,587.53L59.68,589.46L60.55,592.54L58.11,590.7L55.67,592.54L56.54,589.46L54.16,587.53L57.14,587.47ZM63.29,583.72L64.26,586.76L67.24,586.82L64.86,588.76L65.73,591.83L63.29,589.99L60.85,591.83L61.72,588.76L59.35,586.82L62.32,586.76ZM68.47,584.72L69.44,587.76L72.42,587.81L70.04,589.75L70.91,592.82L68.47,590.98L66.03,592.82L66.9,589.75L64.53,587.81L67.5,587.76ZM73.66,583.64L74.63,586.68L77.6,586.74L75.23,588.67L76.1,591.75L73.66,589.91L71.22,591.75L72.09,588.67L69.71,586.74L72.69,586.68ZM78.84,579.25L79.81,582.29L82.78,582.34L80.41,584.28L81.28,587.35L78.84,585.51L76.4,587.35L77.27,584.28L74.89,582.34L77.87,582.29ZM84.02,577.93L84.99,580.97L87.97,581.03L85.59,582.97L86.46,586.04L84.02,584.2L81.58,586.04L82.45,582.97L80.07,581.03L83.05,580.97ZM89.2,574.71L90.17,577.75L93.15,577.81L90.77,579.74L91.64,582.82L89.2,580.97L86.76,582.82L87.63,579.74L85.26,577.81L88.23,577.75ZM94.38,582.6L95.35,585.64L98.33,585.69L95.95,587.63L96.82,590.7L94.38,588.86L91.94,590.7L92.81,587.63L90.44,585.69L93.41,585.64ZM99.57,585.38L100.54,588.42L103.51,588.48L101.14,590.42L102.01,593.49L99.57,591.65L97.13,593.49L98,590.42L95.62,588.48L98.6,588.42ZM104.75,583.58L105.72,586.62L108.69,586.68L106.32,588.61L107.19,591.69L104.75,589.85L102.31,591.69L103.18,588.61L100.8,586.68L103.78,586.62ZM109.93,583.95L110.9,586.99L113.88,587.04L111.5,588.98L112.37,592.06L109.93,590.21L107.49,592.06L108.36,588.98L105.98,587.04L108.96,586.99ZM115.11,584.23L116.08,587.27L119.06,587.32L116.68,589.26L117.55,592.33L115.11,590.49L112.67,592.33L113.54,589.26L111.17,587.32L114.14,587.27ZM120.29,568.63L121.26,571.67L124.24,571.72L121.86,573.66L122.73,576.73L120.29,574.89L117.85,576.73L118.72,573.66L116.35,571.72L119.32,571.67ZM125.48,584.33L126.45,587.37L129.42,587.42L127.05,589.36L127.92,592.43L125.48,590.59L123.04,592.43L123.91,589.36L121.53,587.42L124.51,587.37ZM130.66,582.69L131.63,585.73L134.6,585.79L132.23,587.73L133.1,590.8L130.66,588.96L128.22,590.8L129.09,587.73L126.71,585.79L129.69,585.73ZM135.84,580.57L136.81,583.61L139.79,583.67L137.41,585.6L138.28,588.68L135.84,586.83L133.4,588.68L134.27,585.6L131.89,583.67L134.87,583.61ZM141.02,579.07L141.99,582.11L144.97,582.17L142.59,584.1L143.46,587.18L141.02,585.33L138.58,587.18L139.45,584.1L137.08,582.17L140.05,582.11ZM146.2,559.32L147.17,562.36L150.15,562.41L147.77,564.35L148.64,567.43L146.2,565.58L143.76,567.43L144.63,564.35L142.26,562.41L145.23,562.36ZM151.39,577.35L152.36,580.39L155.33,580.45L152.96,582.39L153.83,585.46L151.39,583.62L148.95,585.46L149.82,582.39L147.44,580.45L150.42,580.39ZM156.57,572.51L157.54,575.55L160.51,575.6L158.14,577.54L159.01,580.62L156.57,578.77L154.13,580.62L155,577.54L152.62,575.6L155.6,575.55ZM161.75,574.92L162.72,577.96L165.7,578.01L163.32,579.95L164.19,583.02L161.75,581.18L159.31,583.02L160.18,579.95L157.8,578.01L160.78,577.96ZM166.93,577.12L167.9,580.16L170.88,580.22L168.5,582.16L169.37,585.23L166.93,583.39L164.49,585.23L165.36,582.16L162.99,580.22L165.96,580.16ZM172.11,576.34L173.08,579.38L176.06,579.43L173.68,581.37L174.55,584.45L172.11,582.6L169.67,584.45L170.54,581.37L168.17,579.43L171.14,579.38ZM177.3,572.03L178.27,575.07L181.24,575.13L178.87,577.06L179.74,580.14L177.3,578.3L174.86,580.14L175.73,577.06L173.35,575.13L176.33,575.07ZM182.48,569.7L183.45,572.74L186.42,572.79L184.05,574.73L184.92,577.8L182.48,575.96L180.04,577.8L180.91,574.73L178.53,572.79L181.51,572.74ZM187.66,552.1L188.63,555.14L191.61,555.19L189.23,557.13L190.1,560.21L187.66,558.36L185.22,560.21L186.09,557.13L183.71,555.19L186.69,555.14ZM192.84,567.48L193.81,570.53L196.79,570.58L194.41,572.52L195.28,575.59L192.84,573.75L190.4,575.59L191.27,572.52L188.9,570.58L191.87,570.53ZM198.02,533.19L198.99,536.23L201.97,536.29L199.59,538.22L200.46,541.3L198.02,539.45L195.58,541.3L196.45,538.22L194.08,536.29L197.05,536.23ZM203.21,559L204.18,562.04L207.15,562.1L204.78,564.03L205.65,567.11L203.21,565.26L200.77,567.11L201.64,564.03L199.26,562.1L202.24,562.04ZM208.39,545.34L209.36,548.38L212.33,548.44L209.96,550.38L210.83,553.45L208.39,551.61L205.95,553.45L206.82,550.38L204.44,548.44L207.42,548.38ZM213.57,519.11L214.54,522.15L217.52,522.2L215.14,524.14L216.01,527.21L213.57,525.37L211.13,527.21L212,524.14L209.62,522.2L212.6,522.15ZM218.75,500.55L219.72,503.59L222.7,503.65L220.32,505.59L221.19,508.66L218.75,506.82L216.31,508.66L217.18,505.59L214.81,503.65L217.78,503.59ZM223.93,495.75L224.9,498.79L227.88,498.85L225.5,500.78L226.37,503.86L223.93,502.02L221.49,503.86L222.36,500.78L219.99,498.85L222.96,498.79ZM229.12,451.22L230.09,454.26L233.06,454.32L230.69,456.25L231.56,459.33L229.12,457.48L226.68,459.33L227.55,456.25L225.17,454.32L228.15,454.26ZM234.3,514.04L235.27,517.08L238.24,517.14L235.87,519.08L236.74,522.15L234.3,520.31L231.86,522.15L232.73,519.08L230.35,517.14L233.33,517.08ZM239.48,440.2L240.45,443.24L243.43,443.3L241.05,445.24L241.92,448.31L239.48,446.47L237.04,448.31L237.91,445.24L235.53,443.3L238.51,443.24ZM244.66,420.27L245.63,423.31L248.61,423.36L246.23,425.3L247.1,428.37L244.66,426.53L242.22,428.37L243.09,425.3L240.72,423.36L243.69,423.31ZM249.84,415.85L250.81,418.89L253.79,418.94L251.41,420.88L252.28,423.96L249.84,422.11L247.4,423.96L248.27,420.88L245.9,418.94L248.87,418.89ZM255.03,383.99L256,387.03L258.97,387.09L256.6,389.02L257.47,392.1L255.03,390.25L252.59,392.1L253.46,389.02L251.08,387.09L254.06,387.03ZM260.21,488.19L261.18,491.23L264.15,491.28L261.78,493.22L262.65,496.3L260.21,494.45L257.77,496.3L258.64,493.22L256.26,491.28L259.24,491.23ZM265.39,449.99L266.36,453.04L269.34,453.09L266.96,455.03L267.83,458.1L265.39,456.26L262.95,458.1L263.82,455.03L261.44,453.09L264.42,453.04ZM270.57,436.19L271.54,439.23L274.52,439.29L272.14,441.22L273.01,444.3L270.57,442.45L268.13,444.3L269,441.22L266.63,439.29L269.6,439.23ZM275.75,383.48L276.72,386.52L279.7,386.57L277.32,388.51L278.19,391.58L275.75,389.74L273.31,391.58L274.18,388.51L271.81,386.57L274.78,386.52ZM280.94,399.68L281.91,402.72L284.88,402.78L282.51,404.71L283.38,407.79L280.94,405.94L278.5,407.79L279.37,404.71L276.99,402.78L279.97,402.72Z"/>
<path class="ln" d="M37.38,586.69L42.56,587.52L47.75,588.85L52.93,587.67L58.11,589.17L63.29,588.27L68.47,588.14L73.66,587.44L78.84,584.13L84.02,581.53L89.2,579.76L94.38,587.96L99.57,589.62L104.75,587.87L109.93,588.83L115.11,588.73L120.29,573.1L125.48,588.16L130.66,586.44L135.84,584.83L141.02,583.99L146.2,562.04L151.39,580.9L156.57,577.54L161.75,578.47L166.93,580.72L172.11,580.85L177.3,574.95L182.48,575.12L187.66,557.48L192.84,572.19L198.02,539.49L203.21,563.33L208.39,548.45L213.57,523.56L218.75,495.76L223.93,503.34L229.12,457.58L234.3,520.2L239.48,444.41L244.66,412.49L249.84,411.1L255.03,375.99L260.21,492.47L265.39,456.24L270.57,444.23L275.75,366.28L280.94,413.29"/>
<path class="mk" d="M32.78,586.69L40.38,582.16L40.38,591.23ZM37.96,587.52L45.56,582.99L45.56,592.06ZM43.15,588.85L50.75,584.31L50.75,593.38ZM48.33,587.67L55.93,583.14L55.93,592.21ZM53.51,589.17L61.11,584.64L61.11,593.71ZM58.69,588.27L66.29,583.73L66.29,592.8ZM63.87,588.14L71.47,583.61L71.47,592.68ZM69.06,587.44L76.66,582.9L76.66,591.98ZM74.24,584.13L81.84,579.59L81.84,588.66ZM79.42,581.53L87.02,576.99L87.02,586.06ZM84.6,579.76L92.2,575.23L92.2,584.3ZM89.78,587.96L97.38,583.42L97.38,592.49ZM94.97,589.62L102.57,585.08L102.57,594.16ZM100.15,587.87L107.75,583.34L107.75,592.41ZM105.33,588.83L112.93,584.3L112.93,593.37ZM110.51,588.73L118.11,584.2L118.11,593.27ZM115.69,573.1L123.29,568.56L123.29,577.64ZM120.88,588.16L128.48,583.63L128.48,592.7ZM126.06,586.44L133.66,581.9L133.66,590.98ZM131.24,584.83L138.84,580.29L138.84,589.36ZM136.42,583.99L144.02,579.45L144.02,588.52ZM141.6,562.04L149.2,557.5L149.2,566.58ZM146.79,580.9L154.39,576.36L154.39,585.44ZM151.97,577.54L159.57,573L159.57,582.07ZM157.15,578.47L164.75,573.94L164.75,583.01ZM162.33,580.72L169.93,576.18L169.93,585.25ZM167.51,580.85L175.11,576.31L175.11,585.39ZM172.7,574.95L180.3,570.42L180.3,579.49ZM177.88,575.12L185.48,570.59L185.48,579.66ZM183.06,557.48L190.66,552.94L190.66,562.02ZM188.24,572.19L195.84,567.65L195.84,576.72ZM193.42,539.49L201.02,534.96L201.02,544.03ZM198.61,563.33L206.21,558.79L206.21,567.86ZM203.79,548.45L211.39,543.92L211.39,552.99ZM208.97,523.56L216.57,519.03L216.57,528.1ZM214.15,495.76L221.75,491.22L221.75,500.29ZM219.33,503.34L226.93,498.8L226.93,507.87ZM224.52,457.58L232.12,453.04L232.12,462.12ZM229.7,520.2L237.3,515.66L237.3,524.73ZM234.88,444.41L242.48,439.87L242.48,448.94ZM240.06,412.49L247.66,407.95L247.66,417.02ZM245.24,411.1L252.84,406.57L252.84,415.64ZM250.43,375.99L258.03,371.45L258.03,380.53ZM255.61,492.47L263.21,487.93L263.21,497ZM260.79,456.24L268.39,451.7L268.39,460.77ZM265.97,444.23L273.57,439.7L273.57,448.77ZM271.15,366.28L278.75,361.74L278.75,370.81ZM276.34,413.29L283.94,408.76L283.94,417.83Z"/>
<path class="ln" d="M37.38,588.18L42.56,587.93L47.75,587.96L52.93,588.78L58.11,588.66L63.29,587.73L68.47,587.95L73.66,587.53L78.84,583.8L84.02,581.77L89.2,580.61L94.38,587.76L99.57,590.05L104.75,587.81L109.93,588.76L115.11,587.67L120.29,572.42L125.48,588.09L130.66,585.6L135.84,584.97L141.02,582.43L146.2,563.4L151.39,580.48L156.57,578.12L161.75,579.9L166.93,581.37L172.11,580.71L177.3,576.1L182.48,574.75L187.66,557.53L192.84,572.25L198.02,531.84L203.21,563.67L208.39,547.45L213.57,519.79L218.75,508.01L223.93,501.05L229.12,458.66L234.3,521.6L239.48,444.03L244.66,418.36L249.84,422.39L255.03,394.02L260.21,481.88L265.39,454.45L270.57,445.61L275.75,388.9L280.94,408.33"/>
<path class="mk" d="M37.38,593.15L33.18,584.94L41.58,584.94ZM42.56,592.9L38.36,584.69L46.76,584.69ZM47.75,592.93L43.55,584.72L51.95,584.72ZM52.93,593.75L48.73,585.54L57.13,585.54ZM58.11,593.62L53.91,585.42L62.31,585.42ZM63.29,592.7L59.09,584.49L67.49,584.49ZM68.47,592.92L64.27,584.71L72.67,584.71ZM73.66,592.5L69.46,584.29L77.86,584.29ZM78.84,588.77L74.64,580.56L83.04,580.56ZM84.02,586.74L79.82,578.53L88.22,578.53ZM89.2,585.57L85,577.37L93.4,577.37ZM94.38,592.73L90.18,584.52L98.58,584.52ZM99.57,595.02L95.37,586.81L103.77,586.81ZM104.75,592.78L100.55,584.57L108.95,584.57ZM109.93,593.73L105.73,585.52L114.13,585.52ZM115.11,592.64L110.91,584.43L119.31,584.43ZM120.29,577.39L116.09,569.18L124.49,569.18ZM125.48,593.05L121.28,584.85L129.68,584.85ZM130.66,590.57L126.46,582.36L134.86,582.36ZM135.84,589.94L131.64,581.73L140.04,581.73ZM141.02,587.4L136.82,579.19L145.22,579.19ZM146.2,568.37L142,560.16L150.4,560.16ZM151.39,585.45L147.19,577.24L155.59,577.24ZM156.57,583.09L152.37,574.88L160.77,574.88ZM161.75,584.86L157.55,576.66L165.95,576.66ZM166.93,586.33L162.73,578.13L171.13,578.13ZM172.11,585.68L167.91,577.47L176.31,577.47ZM177.3,581.07L173.1,572.86L181.5,572.86ZM182.48,579.72L178.28,571.51L186.68,571.51ZM187.66,562.49L183.46,554.29L191.86,554.29ZM192.84,577.22L188.64,569.01L197.04,569.01ZM198.02,536.81L193.82,528.6L202.22,528.6ZM203.21,568.64L199.01,560.43L207.41,560.43ZM208.39,552.41L204.19,544.21L212.59,544.21ZM213.57,524.76L209.37,516.55L217.77,516.55ZM218.75,512.97L214.55,504.77L222.95,504.77ZM223.93,506.02L219.73,497.81L228.13,497.81ZM229.12,463.62L224.92,455.42L233.32,455.42ZM234.3,526.57L230.1,518.36L238.5,518.36ZM239.48,448.99L235.28,440.79L243.68,440.79ZM244.66,423.32L240.46,415.12L248.86,415.12ZM249.84,427.36L245.64,419.15L254.04,419.15ZM255.03,398.98L250.83,390.78L259.23,390.78ZM260.21,486.85L256.01,478.64L264.41,478.64ZM265.39,459.42L261.19,451.21L269.59,451.21ZM270.57,450.57L266.37,442.37L274.77,442.37ZM275.75,393.87L271.55,385.66L279.95,385.66ZM280.94,413.29L276.74,405.09L285.14,405.09Z"/>
<path class="ln" d="M37.38,587.07L42.56,588.86L47.75,587.91L52.93,588.77L58.11,588.66L63.29,588.33L68.47,589.06L73.66,587.83L78.84,584.57L84.02,580.58L89.2,580.14L94.38,586.36L99.57,589.19L104.75,588.79L109.93,588.27L115.11,587.53L120.29,573.87L125.48,587.83L130.66,585.92L135.84,584.3L141.02,583.82L146.2,562.37L151.39,582.1L156.57,578.13L161.75,579.53L166.93,580.42L172.11,580.92L177.3,575L182.48,574.71L187.66,556.98L192.84,572.03L198.02,538.42L203.21,568.2L208.39,547.83L213.57,521.24L218.75,504.75L223.93,505.28L229.12,455.36L234.3,518.98L239.48,447.95L244.66,420.52L249.84,417.68L255.03,390.26L260.21,491.46L265.39,451.04L270.57,436.78L275.75,389.37L280.94,420.82"/>
<path class="mk" d="M34.33,583.94L40.43,583.94L40.43,590.21L34.33,590.21ZM39.51,585.73L45.61,585.73L45.61,591.99L39.51,591.99ZM44.7,584.78L50.8,584.78L50.8,591.04L44.7,591.04ZM49.88,585.64L55.98,585.64L55.98,591.91L49.88,591.91ZM55.06,585.52L61.16,585.52L61.16,591.79L55.06,591.79ZM60.24,585.2L66.34,585.2L66.34,591.46L60.24,591.46ZM65.42,585.92L71.52,585.92L71.52,592.19L65.42,592.19ZM70.61,584.7L76.71,584.7L76.71,590.96L70.61,590.96ZM75.79,581.44L81.89,581.44L81.89,587.7L75.79,587.7ZM80.97,577.45L87.07,577.45L87.07,583.72L80.97,583.72ZM86.15,577.01L92.25,577.01L92.25,583.28L86.15,583.28ZM91.33,583.23L97.43,583.23L97.43,589.49L91.33,589.49ZM96.52,586.06L102.62,586.06L102.62,592.32L96.52,592.32ZM101.7,585.65L107.8,585.65L107.8,591.92L101.7,591.92ZM106.88,585.13L112.98,585.13L112.98,591.4L106.88,591.4ZM112.06,584.4L118.16,584.4L118.16,590.66L112.06,590.66ZM117.24,570.74L123.34,570.74L123.34,577L117.24,577ZM122.43,584.7L128.53,584.7L128.53,590.96L122.43,590.96ZM127.61,582.79L133.71,582.79L133.71,589.05L127.61,589.05ZM132.79,581.17L138.89,581.17L138.89,587.43L132.79,587.43ZM137.97,580.69L144.07,580.69L144.07,586.96L137.97,586.96ZM143.15,559.23L149.25,559.23L149.25,565.5L143.15,565.5ZM148.34,578.96L154.44,578.96L154.44,585.23L148.34,585.23ZM153.52,575L159.62,575L159.62,581.26L153.52,581.26ZM158.7,576.4L164.8,576.4L164.8,582.66L158.7,582.66ZM163.88,577.29L169.98,577.29L169.98,583.55L163.88,583.55ZM169.06,577.79L175.16,577.79L175.16,584.06L169.06,584.06ZM174.25,571.86L180.35,571.86L180.35,578.13L174.25,578.13ZM179.43,571.58L185.53,571.58L185.53,577.85L179.43,577.85ZM184.61,553.85L190.71,553.85L190.71,560.11L184.61,560.11ZM189.79,568.9L195.89,568.9L195.89,575.17L189.79,575.17ZM194.97,535.29L201.07,535.29L201.07,541.55L194.97,541.55ZM200.16,565.07L206.26,565.07L206.26,571.33L200.16,571.33ZM205.34,544.7L211.44,544.7L211.44,550.97L205.34,550.97ZM210.52,518.11L216.62,518.11L216.62,524.37L210.52,524.37ZM215.7,501.62L221.8,501.62L221.8,507.89L215.7,507.89ZM220.88,502.14L226.98,502.14L226.98,508.41L220.88,508.41ZM226.07,452.23L232.17,452.23L232.17,458.49L226.07,458.49ZM231.25,515.84L237.35,515.84L237.35,522.11L231.25,522.11ZM236.43,444.82L242.53,444.82L242.53,451.09L236.43,451.09ZM241.61,417.39L247.71,417.39L247.71,423.65L241.61,423.65ZM246.79,414.55L252.89,414.55L252.89,420.81L246.79,420.81ZM251.98,387.13L258.08,387.13L258.08,393.39L251.98,393.39ZM257.16,488.33L263.26,488.33L263.26,494.6L257.16,494.6ZM262.34,447.91L268.44,447.91L268.44,454.17L262.34,454.17ZM267.52,433.65L273.62,433.65L273.62,439.91L267.52,439.91ZM272.7,386.24L278.8,386.24L278.8,392.5L272.7,392.5ZM277.89,417.68L283.99,417.68L283.99,423.95L277.89,423.95Z"/>
<path class="ln" d="M37.38,585.96L42.56,588.97L47.75,589.03L52.93,588.29L58.11,588.73L63.29,588.95L68.47,587.41L73.66,587.54L78.84,584.23L84.02,580.96L89.2,580.43L94.38,587.63L99.57,589.73L104.75,588.11L109.93,588.97L115.11,587.38L120.29,567.64L125.48,588.35L130.66,586.09L135.84,585.21L141.02,582.47L146.2,555.29L151.39,580.45L156.57,576.68L161.75,578.41L166.93,581.45L172.11,581.19L177.3,574.71L182.48,569.03L187.66,553.35L192.84,572.47L198.02,538.63L203.21,564.66L208.39,550.09L213.57,523.73L218.75,507.2L223.93,499.88L229.12,449.4L234.3,524.07L239.48,448.11L244.66,415.94L249.84,434L255.03,399.06L260.21,499.09L265.39,449.71L270.57,439.06L275.75,390.28L280.94,415.26"/>
<path class="mk" d="M33.58,585.96a3.8,4.1 0 1,0 7.6,0a3.8,4.1 0 1,0 -7.6,0ZM38.76,588.97a3.8,4.1 0 1,0 7.6,0a3.8,4.1 0 1,0 -7.6,0ZM43.95,589.03a3.8,4.1 0 1,0 7.6,0a3.8,4.1 0 1,0 -7.6,0ZM49.13,588.29a3.8,4.1 0 1,0 7.6,0a3.8,4.1 0 1,0 -7.6,0ZM54.31,588.73a3.8,4.1 0 1,0 7.6,0a3.8,4.1 0 1,0 -7.6,0ZM59.49,588.95a3.8,4.1 0 1,0 7.6,0a3.8,4.1 0 1,0 -7.6,0ZM64.67,587.41a3.8,4.1 0 1,0 7.6,0a3.8,4.1 0 1,0 -7.6,0ZM69.86,587.54a3.8,4.1 0 1,0 7.6,0a3.8,4.1 0 1,0 -7.6,0ZM75.04,584.23a3.8,4.1 0 1,0 7.6,0a3.8,4.1 0 1,0 -7.6,0ZM80.22,580.96a3.8,4.1 0 1,0 7.6,0a3.8,4.1 0 1,0 -7.6,0ZM85.4,580.43a3.8,4.1 0 1,0 7.6,0a3.8,4.1 0 1,0 -7.6,0ZM90.58,587.63a3.8,4.1 0 1,0 7.6,0a3.8,4.1 0 1,0 -7.6,0ZM95.77,589.73a3.8,4.1 0 1,0 7.6,0a3.8,4.1 0 1,0 -7.6,0ZM100.95,588.11a3.8,4.1 0 1,0 7.6,0a3.8,4.1 0 1,0 -7.6,0ZM106.13,588.97a3.8,4.1 0 1,0 7.6,0a3.8,4.1 0 1,0 -7.6,0ZM111.31,587.38a3.8,4.1 0 1,0 7.6,0a3.8,4.1 0 1,0 -7.6,0ZM116.49,567.64a3.8,4.1 0 1,0 7.6,0a3.8,4.1 0 1,0 -7.6,0ZM121.68,588.35a3.8,4.1 0 1,0 7.6,0a3.8,4.1 0 1,0 -7.6,0ZM126.86,586.09a3.8,4.1 0 1,0 7.6,0a3.8,4.1 0 1,0 -7.6,0ZM132.04,585.21a3.8,4.1 0 1,0 7.6,0a3.8,4.1 0 1,0 -7.6,0ZM137.22,582.47a3.8,4.1 0 1,0 7.6,0a3.8,4.1 0 1,0 -7.6,0ZM142.4,555.29a3.8,4.1 0 1,0 7.6,0a3.8,4.1 0 1,0 -7.6,0ZM147.59,580.45a3.8,4.1 0 1,0 7.6,0a3.8,4.1 0 1,0 -7.6,0ZM152.77,576.68a3.8,4.1 0 1,0 7.6,0a3.8,4.1 0 1,0 -7.6,0ZM157.95,578.41a3.8,4.1 0 1,0 7.6,0a3.8,4.1 0 1,0 -7.6,0ZM163.13,581.45a3.8,4.1 0 1,0 7.6,0a3.8,4.1 0 1,0 -7.6,0ZM168.31,581.19a3.8,4.1 0 1,0 7.6,0a3.8,4.1 0 1,0 -7.6,0ZM173.5,574.71a3.8,4.1 0 1,0 7.6,0a3.8,4.1 0 1,0 -7.6,0ZM178.68,569.03a3.8,4.1 0 1,0 7.6,0a3.8,4.1 0 1,0 -7.6,0ZM183.86,553.35a3.8,4.1 0 1,0 7.6,0a3.8,4.1 0 1,0 -7.6,0ZM189.04,572.47a3.8,4.1 0 1,0 7.6,0a3.8,4.1 0 1,0 -7.6,0ZM194.22,538.63a3.8,4.1 0 1,0 7.6,0a3.8,4.1 0 1,0 -7.6,0ZM199.41,564.66a3.8,4.1 0 1,0 7.6,0a3.8,4.1 0 1,0 -7.6,0ZM204.59,550.09a3.8,4.1 0 1,0 7.6,0a3.8,4.1 0 1,0 -7.6,0ZM209.77,523.73a3.8,4.1 0 1,0 7.6,0a3.8,4.1 0 1,0 -7.6,0ZM214.95,507.2a3.8,4.1 0 1,0 7.6,0a3.8,4.1 0 1,0 -7.6,0ZM220.13,499.88a3.8,4.1 0 1,0 7.6,0a3.8,4.1 0 1,0 -7.6,0ZM225.32,449.4a3.8,4.1 0 1,0 7.6,0a3.8,4.1 0 1,0 -7.6,0ZM230.5,524.07a3.8,4.1 0 1,0 7.6,0a3.8,4.1 0 1,0 -7.6,0ZM235.68,448.11a3.8,4.1 0 1,0 7.6,0a3.8,4.1 0 1,0 -7.6,0ZM240.86,415.94a3.8,4.1 0 1,0 7.6,0a3.8,4.1 0 1,0 -7.6,0ZM246.04,434a3.8,4.1 0 1,0 7.6,0a3.8,4.1 0 1,0 -7.6,0ZM251.23,399.06a3.8,4.1 0 1,0 7.6,0a3.8,4.1 0 1,0 -7.6,0ZM256.41,499.09a3.8,4.1 0 1,0 7.6,0a3.8,4.1 0 1,0 -7.6,0ZM261.59,449.71a3.8,4.1 0 1,0 7.6,0a3.8,4.1 0 1,0 -7.6,0ZM266.77,439.06a3.8,4.1 0 1,0 7.6,0a3.8,4.1 0 1,0 -7.6,0ZM271.95,390.28a3.8,4.1 0 1,0 7.6,0a3.8,4.1 0 1,0 -7.6,0ZM277.14,415.26a3.8,4.1 0 1,0 7.6,0a3.8,4.1 0 1,0 -7.6,0Z"/>
<rect class="lg" x="37.5" y="348.2" width="50.7" height="59.4"/>
<path class="ln" d="M39.3,354.15h15.6"/>
<path class="mk" d="M47.2,349.67L48.4,351.91L50.79,351.91L49.6,354.15L50.79,356.39L48.4,356.39L47.2,358.63L46,356.39L43.61,356.39L44.8,354.15L43.61,351.91L46,351.91Z"/>
<text class="lt" transform="translate(56.5,357.05) scale(1,1.13)">Standard</text>
<path class="ln" d="M39.3,363.65h15.6"/>
<path class="mk" d="M47.2,359.17L48.17,362.21L51.15,362.26L48.77,364.2L49.64,367.28L47.2,365.43L44.76,367.28L45.63,364.2L43.25,362.26L46.23,362.21Z"/>
<text class="lt" transform="translate(56.5,366.55) scale(1,1.13)">Level 55</text>
<path class="ln" d="M39.3,373.15h15.6"/>
<path class="mk" d="M42.6,373.15L50.2,368.61L50.2,377.69Z"/>
<text class="lt" transform="translate(56.5,376.05) scale(1,1.13)">Level 65</text>
<path class="ln" d="M39.3,382.65h15.6"/>
<path class="mk" d="M47.2,387.62L43,379.41L51.4,379.41Z"/>
<text class="lt" transform="translate(56.5,385.55) scale(1,1.13)">Level 75</text>
<path class="ln" d="M39.3,392.15h15.6"/>
<path class="mk" d="M44.15,389.02L50.25,389.02L50.25,395.28L44.15,395.28Z"/>
<text class="lt" transform="translate(56.5,395.05) scale(1,1.13)">Level 85</text>
<path class="ln" d="M39.3,401.65h15.6"/>
<path class="mk" d="M43.4,401.65a3.8,4.1 0 1,0 7.6,0a3.8,4.1 0 1,0 -7.6,0Z"/>
<text class="lt" transform="translate(56.5,404.55) scale(1,1.13)">Level 95</text>
<text class="lb" transform="translate(8.5,460.3) rotate(-90)" text-anchor="middle" textLength="43.2">Ra(µm)</text>
<text class="lb" x="170" y="623.3" text-anchor="middle">Sample number</text>
<text class="cp" x="171.6" y="652.5" text-anchor="middle">(c) <tspan font-style="italic">CD</tspan></text>
<path class="ax" d="M336.3,340.6H590V592.9H336.3ZM387.04,592.9v-2.6M387.04,340.6v2.6M437.78,592.9v-2.6M437.78,340.6v2.6M488.52,592.9v-2.6M488.52,340.6v2.6M539.26,592.9v-2.6M539.26,340.6v2.6M336.3,564.87h2.6M590,564.87h-2.6M336.3,536.83h2.6M590,536.83h-2.6M336.3,508.8h2.6M590,508.8h-2.6M336.3,480.77h2.6M590,480.77h-2.6M336.3,452.73h2.6M590,452.73h-2.6M336.3,424.7h2.6M590,424.7h-2.6M336.3,396.67h2.6M590,396.67h-2.6M336.3,368.63h2.6M590,368.63h-2.6"/>
<g class="tk" transform="scale(1,1.07)">
<text x="336.3" y="567.48" text-anchor="middle">0</text>
<text x="387.04" y="567.48" text-anchor="middle">10</text>
<text x="437.78" y="567.48" text-anchor="middle">20</text>
<text x="488.52" y="567.48" text-anchor="middle">30</text>
<text x="539.26" y="567.48" text-anchor="middle">40</text>
<text x="590" y="567.48" text-anchor="middle">50</text>
<text x="332.9" y="558.04" text-anchor="end">0</text>
<text x="332.9" y="531.84" text-anchor="end">0.2</text>
<text x="332.9" y="505.64" text-anchor="end">0.4</text>
<text x="332.9" y="479.44" text-anchor="end">0.6</text>
<text x="332.9" y="453.24" text-anchor="end">0.8</text>
<text x="332.9" y="427.04" text-anchor="end">1</text>
<text x="332.9" y="400.84" text-anchor="end">1.2</text>
<text x="332.9" y="374.64" text-anchor="end">1.4</text>
<text x="332.9" y="348.44" text-anchor="end">1.6</text>
<text x="332.9" y="322.24" text-anchor="end">1.8</text>
</g>
<path class="ln" d="M341.37,590.1L346.45,587.29L351.52,587.99L356.6,588.69L361.67,587.99L366.74,588.69L371.82,587.29L376.89,586.59L381.97,587.29L387.04,584.49L392.11,585.89L397.19,587.29L402.26,586.59L407.34,587.29L412.41,587.99L417.48,588.69L422.56,588.69L427.63,588.69L432.71,587.29L437.78,587.29L442.85,587.99L447.93,587.29L453,587.99L458.08,585.89L463.15,587.29L468.22,586.59L473.3,587.29L478.37,581.69L483.45,580.28L488.52,564.87L493.59,573.28L498.67,550.85L503.74,562.06L508.82,550.85L513.89,528.42L518.96,522.82L524.04,515.81L529.11,490.58L534.19,473.76L539.26,456.1L544.33,452.73L549.41,448.81L554.48,446.15L559.56,444.32L564.63,447.13L569.7,443.34L574.78,444.32L579.85,445.73"/>
<path class="mk" d="M341.37,585.61L342.57,587.85L344.97,587.86L343.77,590.1L344.97,592.34L342.57,592.34L341.37,594.58L340.17,592.34L337.78,592.34L338.97,590.1L337.78,587.86L340.17,587.85ZM346.45,582.81L347.65,585.05L350.04,585.05L348.85,587.29L350.04,589.53L347.65,589.54L346.45,591.78L345.25,589.54L342.85,589.53L344.05,587.29L342.85,585.05L345.25,585.05ZM351.52,583.51L352.72,585.75L355.12,585.75L353.92,587.99L355.12,590.24L352.72,590.24L351.52,592.48L350.32,590.24L347.93,590.24L349.12,587.99L347.93,585.75L350.32,585.75ZM356.6,584.21L357.8,586.45L360.19,586.45L359,588.69L360.19,590.94L357.8,590.94L356.6,593.18L355.4,590.94L353,590.94L354.2,588.69L353,586.45L355.4,586.45ZM361.67,583.51L362.87,585.75L365.26,585.75L364.07,587.99L365.26,590.24L362.87,590.24L361.67,592.48L360.47,590.24L358.08,590.24L359.27,587.99L358.08,585.75L360.47,585.75ZM366.74,584.21L367.94,586.45L370.34,586.45L369.14,588.69L370.34,590.94L367.94,590.94L366.74,593.18L365.54,590.94L363.15,590.94L364.34,588.69L363.15,586.45L365.54,586.45ZM371.82,582.81L373.02,585.05L375.41,585.05L374.22,587.29L375.41,589.53L373.02,589.54L371.82,591.78L370.62,589.54L368.22,589.53L369.42,587.29L368.22,585.05L370.62,585.05ZM376.89,582.11L378.09,584.35L380.49,584.35L379.29,586.59L380.49,588.83L378.09,588.84L376.89,591.07L375.69,588.84L373.3,588.83L374.49,586.59L373.3,584.35L375.69,584.35ZM381.97,582.81L383.17,585.05L385.56,585.05L384.37,587.29L385.56,589.53L383.17,589.54L381.97,591.78L380.77,589.54L378.37,589.53L379.57,587.29L378.37,585.05L380.77,585.05ZM387.04,580.01L388.24,582.25L390.63,582.25L389.44,584.49L390.63,586.73L388.24,586.73L387.04,588.97L385.84,586.73L383.45,586.73L384.64,584.49L383.45,582.25L385.84,582.25ZM392.11,581.41L393.31,583.65L395.71,583.65L394.51,585.89L395.71,588.13L393.31,588.14L392.11,590.37L390.91,588.14L388.52,588.13L389.71,585.89L388.52,583.65L390.91,583.65ZM397.19,582.81L398.39,585.05L400.78,585.05L399.59,587.29L400.78,589.53L398.39,589.54L397.19,591.78L395.99,589.54L393.59,589.53L394.79,587.29L393.59,585.05L395.99,585.05ZM402.26,582.11L403.46,584.35L405.86,584.35L404.66,586.59L405.86,588.83L403.46,588.84L402.26,591.07L401.06,588.84L398.67,588.83L399.86,586.59L398.67,584.35L401.06,584.35ZM407.34,582.81L408.54,585.05L410.93,585.05L409.74,587.29L410.93,589.53L408.54,589.54L407.34,591.78L406.14,589.54L403.74,589.53L404.94,587.29L403.74,585.05L406.14,585.05ZM412.41,583.51L413.61,585.75L416,585.75L414.81,587.99L416,590.24L413.61,590.24L412.41,592.48L411.21,590.24L408.82,590.24L410.01,587.99L408.82,585.75L411.21,585.75ZM417.48,584.21L418.68,586.45L421.08,586.45L419.88,588.69L421.08,590.94L418.68,590.94L417.48,593.18L416.28,590.94L413.89,590.94L415.08,588.69L413.89,586.45L416.28,586.45ZM422.56,584.21L423.76,586.45L426.15,586.45L424.96,588.69L426.15,590.94L423.76,590.94L422.56,593.18L421.36,590.94L418.96,590.94L420.16,588.69L418.96,586.45L421.36,586.45ZM427.63,584.21L428.83,586.45L431.23,586.45L430.03,588.69L431.23,590.94L428.83,590.94L427.63,593.18L426.43,590.94L424.04,590.94L425.23,588.69L424.04,586.45L426.43,586.45ZM432.71,582.81L433.91,585.05L436.3,585.05L435.11,587.29L436.3,589.53L433.91,589.54L432.71,591.78L431.51,589.54L429.11,589.53L430.31,587.29L429.11,585.05L431.51,585.05ZM437.78,582.81L438.98,585.05L441.37,585.05L440.18,587.29L441.37,589.53L438.98,589.54L437.78,591.78L436.58,589.54L434.19,589.53L435.38,587.29L434.19,585.05L436.58,585.05ZM442.85,583.51L444.05,585.75L446.45,585.75L445.25,587.99L446.45,590.24L444.05,590.24L442.85,592.48L441.65,590.24L439.26,590.24L440.45,587.99L439.26,585.75L441.65,585.75ZM447.93,582.81L449.13,585.05L451.52,585.05L450.33,587.29L451.52,589.53L449.13,589.54L447.93,591.78L446.73,589.54L444.33,589.53L445.53,587.29L444.33,585.05L446.73,585.05ZM453,583.51L454.2,585.75L456.6,585.75L455.4,587.99L456.6,590.24L454.2,590.24L453,592.48L451.8,590.24L449.41,590.24L450.6,587.99L449.41,585.75L451.8,585.75ZM458.08,581.41L459.28,583.65L461.67,583.65L460.48,585.89L461.67,588.13L459.28,588.14L458.08,590.37L456.88,588.14L454.48,588.13L455.68,585.89L454.48,583.65L456.88,583.65ZM463.15,582.81L464.35,585.05L466.74,585.05L465.55,587.29L466.74,589.53L464.35,589.54L463.15,591.78L461.95,589.54L459.56,589.53L460.75,587.29L459.56,585.05L461.95,585.05ZM468.22,582.11L469.42,584.35L471.82,584.35L470.62,586.59L471.82,588.83L469.42,588.84L468.22,591.07L467.02,588.84L464.63,588.83L465.82,586.59L464.63,584.35L467.02,584.35ZM473.3,582.81L474.5,585.05L476.89,585.05L475.7,587.29L476.89,589.53L474.5,589.54L473.3,591.78L472.1,589.54L469.7,589.53L470.9,587.29L469.7,585.05L472.1,585.05ZM478.37,577.2L479.57,579.44L481.97,579.45L480.77,581.69L481.97,583.93L479.57,583.93L478.37,586.17L477.17,583.93L474.78,583.93L475.97,581.69L474.78,579.45L477.17,579.44ZM483.45,575.8L484.65,578.04L487.04,578.04L485.85,580.28L487.04,582.53L484.65,582.53L483.45,584.77L482.25,582.53L479.85,582.53L481.05,580.28L479.85,578.04L482.25,578.04ZM488.52,560.38L489.72,562.62L492.11,562.63L490.92,564.87L492.11,567.11L489.72,567.11L488.52,569.35L487.32,567.11L484.93,567.11L486.12,564.87L484.93,562.63L487.32,562.62ZM493.59,568.79L494.79,571.03L497.19,571.04L495.99,573.28L497.19,575.52L494.79,575.52L493.59,577.76L492.39,575.52L490,575.52L491.19,573.28L490,571.04L492.39,571.03ZM498.67,546.37L499.87,548.61L502.26,548.61L501.07,550.85L502.26,553.09L499.87,553.09L498.67,555.33L497.47,553.09L495.07,553.09L496.27,550.85L495.07,548.61L497.47,548.61ZM503.74,557.58L504.94,559.82L507.34,559.82L506.14,562.06L507.34,564.3L504.94,564.31L503.74,566.55L502.54,564.31L500.15,564.3L501.34,562.06L500.15,559.82L502.54,559.82ZM508.82,546.37L510.02,548.61L512.41,548.61L511.22,550.85L512.41,553.09L510.02,553.09L508.82,555.33L507.62,553.09L505.22,553.09L506.42,550.85L505.22,548.61L507.62,548.61ZM513.89,523.94L515.09,526.18L517.48,526.18L516.29,528.42L517.48,530.66L515.09,530.67L513.89,532.91L512.69,530.67L510.3,530.66L511.49,528.42L510.3,526.18L512.69,526.18ZM518.96,518.33L520.16,520.57L522.56,520.58L521.36,522.82L522.56,525.06L520.16,525.06L518.96,527.3L517.76,525.06L515.37,525.06L516.56,522.82L515.37,520.58L517.76,520.57ZM524.04,511.33L525.24,513.56L527.63,513.57L526.44,515.81L527.63,518.05L525.24,518.05L524.04,520.29L522.84,518.05L520.44,518.05L521.64,515.81L520.44,513.57L522.84,513.56ZM529.11,486.1L530.31,488.33L532.71,488.34L531.51,490.58L532.71,492.82L530.31,492.82L529.11,495.06L527.91,492.82L525.52,492.82L526.71,490.58L525.52,488.34L527.91,488.33ZM534.19,469.28L535.39,471.51L537.78,471.52L536.59,473.76L537.78,476L535.39,476L534.19,478.24L532.99,476L530.59,476L531.79,473.76L530.59,471.52L532.99,471.51ZM539.26,451.62L540.46,453.85L542.85,453.86L541.66,456.1L542.85,458.34L540.46,458.34L539.26,460.58L538.06,458.34L535.67,458.34L536.86,456.1L535.67,453.86L538.06,453.85ZM544.33,448.25L545.53,450.49L547.93,450.49L546.73,452.73L547.93,454.97L545.53,454.98L544.33,457.22L543.13,454.98L540.74,454.97L541.93,452.73L540.74,450.49L543.13,450.49ZM549.41,444.33L550.61,446.56L553,446.57L551.81,448.81L553,451.05L550.61,451.05L549.41,453.29L548.21,451.05L545.81,451.05L547.01,448.81L545.81,446.57L548.21,446.56ZM554.48,441.66L555.68,443.9L558.08,443.9L556.88,446.15L558.08,448.39L555.68,448.39L554.48,450.63L553.28,448.39L550.89,448.39L552.08,446.15L550.89,443.9L553.28,443.9ZM559.56,439.84L560.76,442.08L563.15,442.08L561.96,444.32L563.15,446.56L560.76,446.57L559.56,448.81L558.36,446.57L555.96,446.56L557.16,444.32L555.96,442.08L558.36,442.08ZM564.63,442.64L565.83,444.88L568.22,444.89L567.03,447.13L568.22,449.37L565.83,449.37L564.63,451.61L563.43,449.37L561.04,449.37L562.23,447.13L561.04,444.89L563.43,444.88ZM569.7,438.86L570.9,441.1L573.3,441.1L572.1,443.34L573.3,445.58L570.9,445.59L569.7,447.82L568.5,445.59L566.11,445.58L567.3,443.34L566.11,441.1L568.5,441.1ZM574.78,439.84L575.98,442.08L578.37,442.08L577.18,444.32L578.37,446.56L575.98,446.57L574.78,448.81L573.58,446.57L571.18,446.56L572.38,444.32L571.18,442.08L573.58,442.08ZM579.85,441.24L581.05,443.48L583.45,443.48L582.25,445.73L583.45,447.97L581.05,447.97L579.85,450.21L578.65,447.97L576.26,447.97L577.45,445.73L576.26,443.48L578.65,443.48Z"/>
<path class="ln" d="M341.37,588.13L346.45,587.18L351.52,588.12L356.6,588.24L361.67,589.14L366.74,587.7L371.82,588.35L376.89,587.31L381.97,584.58L387.04,584.46L392.11,581.19L397.19,586.9L402.26,588.44L407.34,587.07L412.41,588.12L417.48,587.61L422.56,572.35L427.63,588.08L432.71,585.5L437.78,583.97L442.85,583.74L447.93,560.99L453,582.47L458.08,579.34L463.15,583.48L468.22,583.67L473.3,582.36L478.37,576.8L483.45,577.12L488.52,552.69L493.59,571.98L498.67,532.63L503.74,561.2L508.82,558.41L513.89,519.89L518.96,479.98L524.04,491.53L529.11,460.72L534.19,507.73L539.26,456.94L544.33,435.63L549.41,417.69L554.48,407.88L559.56,484.41L564.63,455.54L569.7,435.91L574.78,405.5L579.85,401.85"/>
<path class="mk" d="M341.37,583.65L342.34,586.69L345.32,586.74L342.94,588.68L343.81,591.75L341.37,589.91L338.93,591.75L339.8,588.68L337.43,586.74L340.4,586.69ZM346.45,582.7L347.42,585.74L350.39,585.8L348.02,587.73L348.89,590.81L346.45,588.96L344.01,590.81L344.88,587.73L342.5,585.8L345.48,585.74ZM351.52,583.64L352.49,586.68L355.47,586.73L353.09,588.67L353.96,591.74L351.52,589.9L349.08,591.74L349.95,588.67L347.58,586.73L350.55,586.68ZM356.6,583.75L357.57,586.79L360.54,586.85L358.17,588.79L359.04,591.86L356.6,590.02L354.16,591.86L355.03,588.79L352.65,586.85L355.63,586.79ZM361.67,584.66L362.64,587.7L365.62,587.76L363.24,589.69L364.11,592.77L361.67,590.93L359.23,592.77L360.1,589.69L357.72,587.76L360.7,587.7ZM366.74,583.21L367.71,586.25L370.69,586.31L368.31,588.25L369.18,591.32L366.74,589.48L364.3,591.32L365.17,588.25L362.8,586.31L365.77,586.25ZM371.82,583.87L372.79,586.91L375.76,586.97L373.39,588.9L374.26,591.98L371.82,590.13L369.38,591.98L370.25,588.9L367.87,586.97L370.85,586.91ZM376.89,582.83L377.86,585.87L380.84,585.93L378.46,587.86L379.33,590.94L376.89,589.1L374.45,590.94L375.32,587.86L372.95,585.93L375.92,585.87ZM381.97,580.1L382.94,583.14L385.91,583.19L383.54,585.13L384.41,588.2L381.97,586.36L379.53,588.2L380.4,585.13L378.02,583.19L381,583.14ZM387.04,579.98L388.01,583.02L390.99,583.07L388.61,585.01L389.48,588.09L387.04,586.24L384.6,588.09L385.47,585.01L383.09,583.07L386.07,583.02ZM392.11,576.71L393.08,579.75L396.06,579.8L393.68,581.74L394.55,584.81L392.11,582.97L389.67,584.81L390.54,581.74L388.17,579.8L391.14,579.75ZM397.19,582.41L398.16,585.45L401.13,585.51L398.76,587.45L399.63,590.52L397.19,588.68L394.75,590.52L395.62,587.45L393.24,585.51L396.22,585.45ZM402.26,583.96L403.23,587L406.21,587.06L403.83,589L404.7,592.07L402.26,590.23L399.82,592.07L400.69,589L398.32,587.06L401.29,587ZM407.34,582.59L408.31,585.63L411.28,585.68L408.91,587.62L409.78,590.69L407.34,588.85L404.9,590.69L405.77,587.62L403.39,585.68L406.37,585.63ZM412.41,583.64L413.38,586.68L416.36,586.73L413.98,588.67L414.85,591.74L412.41,589.9L409.97,591.74L410.84,588.67L408.46,586.73L411.44,586.68ZM417.48,583.13L418.45,586.17L421.43,586.22L419.05,588.16L419.92,591.23L417.48,589.39L415.04,591.23L415.91,588.16L413.54,586.22L416.51,586.17ZM422.56,567.87L423.53,570.91L426.5,570.97L424.13,572.9L425,575.98L422.56,574.13L420.12,575.98L420.99,572.9L418.61,570.97L421.59,570.91ZM427.63,583.59L428.6,586.64L431.58,586.69L429.2,588.63L430.07,591.7L427.63,589.86L425.19,591.7L426.06,588.63L423.69,586.69L426.66,586.64ZM432.71,581.02L433.68,584.06L436.65,584.12L434.28,586.06L435.15,589.13L432.71,587.29L430.27,589.13L431.14,586.06L428.76,584.12L431.74,584.06ZM437.78,579.49L438.75,582.53L441.73,582.58L439.35,584.52L440.22,587.59L437.78,585.75L435.34,587.59L436.21,584.52L433.83,582.58L436.81,582.53ZM442.85,579.25L443.82,582.29L446.8,582.35L444.42,584.29L445.29,587.36L442.85,585.52L440.41,587.36L441.28,584.29L438.91,582.35L441.88,582.29ZM447.93,556.51L448.9,559.55L451.87,559.61L449.5,561.55L450.37,564.62L447.93,562.78L445.49,564.62L446.36,561.55L443.98,559.61L446.96,559.55ZM453,577.99L453.97,581.03L456.95,581.08L454.57,583.02L455.44,586.1L453,584.25L450.56,586.1L451.43,583.02L449.06,581.08L452.03,581.03ZM458.08,574.86L459.05,577.9L462.02,577.96L459.65,579.89L460.52,582.97L458.08,581.12L455.64,582.97L456.51,579.89L454.13,577.96L457.11,577.9ZM463.15,579L464.12,582.04L467.1,582.09L464.72,584.03L465.59,587.1L463.15,585.26L460.71,587.1L461.58,584.03L459.2,582.09L462.18,582.04ZM468.22,579.19L469.19,582.23L472.17,582.29L469.79,584.22L470.66,587.3L468.22,585.46L465.78,587.3L466.65,584.22L464.28,582.29L467.25,582.23ZM473.3,577.88L474.27,580.92L477.24,580.98L474.87,582.92L475.74,585.99L473.3,584.15L470.86,585.99L471.73,582.92L469.35,580.98L472.33,580.92ZM478.37,572.32L479.34,575.36L482.32,575.42L479.94,577.35L480.81,580.43L478.37,578.58L475.93,580.43L476.8,577.35L474.43,575.42L477.4,575.36ZM483.45,572.64L484.42,575.68L487.39,575.73L485.02,577.67L485.89,580.75L483.45,578.9L481.01,580.75L481.88,577.67L479.5,575.73L482.48,575.68ZM488.52,548.21L489.49,551.25L492.47,551.31L490.09,553.24L490.96,556.32L488.52,554.47L486.08,556.32L486.95,553.24L484.57,551.31L487.55,551.25ZM493.59,567.5L494.56,570.54L497.54,570.59L495.16,572.53L496.03,575.61L493.59,573.76L491.15,575.61L492.02,572.53L489.65,570.59L492.62,570.54ZM498.67,528.15L499.64,531.19L502.61,531.24L500.24,533.18L501.11,536.25L498.67,534.41L496.23,536.25L497.1,533.18L494.72,531.24L497.7,531.19ZM503.74,556.72L504.71,559.76L507.69,559.82L505.31,561.75L506.18,564.83L503.74,562.99L501.3,564.83L502.17,561.75L499.8,559.82L502.77,559.76ZM508.82,553.93L509.79,556.97L512.76,557.03L510.39,558.96L511.26,562.04L508.82,560.2L506.38,562.04L507.25,558.96L504.87,557.03L507.85,556.97ZM513.89,515.41L514.86,518.45L517.84,518.51L515.46,520.44L516.33,523.52L513.89,521.68L511.45,523.52L512.32,520.44L509.94,518.51L512.92,518.45ZM518.96,475.5L519.93,478.54L522.91,478.6L520.53,480.53L521.4,483.61L518.96,481.76L516.52,483.61L517.39,480.53L515.02,478.6L517.99,478.54ZM524.04,487.05L525.01,490.09L527.98,490.15L525.61,492.08L526.48,495.16L524.04,493.31L521.6,495.16L522.47,492.08L520.09,490.15L523.07,490.09ZM529.11,456.24L530.08,459.28L533.06,459.34L530.68,461.27L531.55,464.35L529.11,462.5L526.67,464.35L527.54,461.27L525.17,459.34L528.14,459.28ZM534.19,503.25L535.16,506.29L538.13,506.34L535.76,508.28L536.63,511.36L534.19,509.51L531.75,511.36L532.62,508.28L530.24,506.34L533.22,506.29ZM539.26,452.46L540.23,455.5L543.21,455.55L540.83,457.49L541.7,460.56L539.26,458.72L536.82,460.56L537.69,457.49L535.31,455.55L538.29,455.5ZM544.33,431.15L545.3,434.19L548.28,434.25L545.9,436.18L546.77,439.26L544.33,437.42L541.89,439.26L542.76,436.18L540.39,434.25L543.36,434.19ZM549.41,413.21L550.38,416.25L553.35,416.31L550.98,418.24L551.85,421.32L549.41,419.47L546.97,421.32L547.84,418.24L545.46,416.31L548.44,416.25ZM554.48,403.4L555.45,406.44L558.43,406.49L556.05,408.43L556.92,411.51L554.48,409.66L552.04,411.51L552.91,408.43L550.54,406.49L553.51,406.44ZM559.56,479.93L560.53,482.97L563.5,483.03L561.13,484.96L562,488.04L559.56,486.19L557.12,488.04L557.99,484.96L555.61,483.03L558.59,482.97ZM564.63,451.05L565.6,454.09L568.58,454.15L566.2,456.09L567.07,459.16L564.63,457.32L562.19,459.16L563.06,456.09L560.68,454.15L563.66,454.09ZM569.7,431.43L570.67,434.47L573.65,434.53L571.27,436.46L572.14,439.54L569.7,437.7L567.26,439.54L568.13,436.46L565.76,434.53L568.73,434.47ZM574.78,401.02L575.75,404.06L578.72,404.11L576.35,406.05L577.22,409.12L574.78,407.28L572.34,409.12L573.21,406.05L570.83,404.11L573.81,404.06ZM579.85,397.37L580.82,400.41L583.8,400.47L581.42,402.4L582.29,405.48L579.85,403.63L577.41,405.48L578.28,402.4L575.91,400.47L578.88,400.41Z"/>
<path class="ln" d="M341.37,586.75L346.45,587.07L351.52,589.46L356.6,588.05L361.67,588.24L366.74,588.39L371.82,587.63L376.89,586.26L381.97,584.72L387.04,583.56L392.11,580.84L397.19,586.19L402.26,588.48L407.34,587.14L412.41,588.98L417.48,586.98L422.56,570.92L427.63,586.94L432.71,584.24L437.78,581.95L442.85,585.31L447.93,562.77L453,582.46L458.08,580.73L463.15,582.36L468.22,585.01L473.3,582.57L478.37,575.25L483.45,576.55L488.52,551.4L493.59,571.91L498.67,535.4L503.74,557.45L508.82,556.74L513.89,520.17L518.96,473.48L524.04,492.07L529.11,460.85L534.19,510.43L539.26,452.73L544.33,421.9L549.41,401.85L554.48,398.07L559.56,483.57L564.63,452.73L569.7,444.32L574.78,430.31L579.85,437.46"/>
<path class="mk" d="M336.77,586.75L344.37,582.21L344.37,591.28ZM341.85,587.07L349.45,582.53L349.45,591.6ZM346.92,589.46L354.52,584.92L354.52,594ZM352,588.05L359.6,583.52L359.6,592.59ZM357.07,588.24L364.67,583.71L364.67,592.78ZM362.14,588.39L369.74,583.86L369.74,592.93ZM367.22,587.63L374.82,583.09L374.82,592.16ZM372.29,586.26L379.89,581.72L379.89,590.79ZM377.37,584.72L384.97,580.18L384.97,589.25ZM382.44,583.56L390.04,579.03L390.04,588.1ZM387.51,580.84L395.11,576.3L395.11,585.38ZM392.59,586.19L400.19,581.65L400.19,590.72ZM397.66,588.48L405.26,583.94L405.26,593.01ZM402.74,587.14L410.34,582.61L410.34,591.68ZM407.81,588.98L415.41,584.44L415.41,593.51ZM412.88,586.98L420.48,582.44L420.48,591.51ZM417.96,570.92L425.56,566.39L425.56,575.46ZM423.03,586.94L430.63,582.41L430.63,591.48ZM428.11,584.24L435.71,579.7L435.71,588.78ZM433.18,581.95L440.78,577.42L440.78,586.49ZM438.25,585.31L445.85,580.78L445.85,589.85ZM443.33,562.77L450.93,558.23L450.93,567.3ZM448.4,582.46L456,577.93L456,587ZM453.48,580.73L461.08,576.2L461.08,585.27ZM458.55,582.36L466.15,577.83L466.15,586.9ZM463.62,585.01L471.22,580.47L471.22,589.54ZM468.7,582.57L476.3,578.03L476.3,587.1ZM473.77,575.25L481.37,570.71L481.37,579.78ZM478.85,576.55L486.45,572.01L486.45,581.08ZM483.92,551.4L491.52,546.86L491.52,555.94ZM488.99,571.91L496.59,567.37L496.59,576.44ZM494.07,535.4L501.67,530.86L501.67,539.93ZM499.14,557.45L506.74,552.91L506.74,561.98ZM504.22,556.74L511.82,552.21L511.82,561.28ZM509.29,520.17L516.89,515.63L516.89,524.7ZM514.36,473.48L521.96,468.94L521.96,478.01ZM519.44,492.07L527.04,487.54L527.04,496.61ZM524.51,460.85L532.11,456.31L532.11,465.38ZM529.59,510.43L537.19,505.89L537.19,514.96ZM534.66,452.73L542.26,448.2L542.26,457.27ZM539.73,421.9L547.33,417.36L547.33,426.43ZM544.81,401.85L552.41,397.32L552.41,406.39ZM549.88,398.07L557.48,393.53L557.48,402.6ZM554.96,483.57L562.56,479.03L562.56,488.11ZM560.03,452.73L567.63,448.2L567.63,457.27ZM565.1,444.32L572.7,439.79L572.7,448.86ZM570.18,430.31L577.78,425.77L577.78,434.84ZM575.25,437.46L582.85,432.92L582.85,441.99Z"/>
<path class="ln" d="M341.37,590.1L346.45,590.38L351.52,590.66L356.6,590.38L361.67,590.66L366.74,590.38L371.82,590.38L376.89,590.1L381.97,588.98L387.04,587.29L392.11,585.19L397.19,590.1L402.26,591.22L407.34,590.1L412.41,590.66L417.48,590.1L422.56,577.48L427.63,590.1L432.71,587.99L437.78,587.29L442.85,587.99L447.93,569.07L453,588.69L458.08,585.89L463.15,587.99L468.22,589.54L473.3,587.71L478.37,583.09L483.45,582.11L488.52,564.87L493.59,582.11L498.67,550.85L503.74,575.66L508.82,566.55L513.89,542.44L518.96,505.72L524.04,520.71L529.11,480.77L534.19,531.79L539.26,481.75L544.33,462.55L549.41,447.13L554.48,433.53L559.56,511.88L564.63,487.07L569.7,474.46L574.78,452.73L579.85,463.95"/>
<path class="mk" d="M341.37,595.06L337.17,586.86L345.57,586.86ZM346.45,595.34L342.25,587.14L350.65,587.14ZM351.52,595.63L347.32,587.42L355.72,587.42ZM356.6,595.34L352.4,587.14L360.8,587.14ZM361.67,595.63L357.47,587.42L365.87,587.42ZM366.74,595.34L362.54,587.14L370.94,587.14ZM371.82,595.34L367.62,587.14L376.02,587.14ZM376.89,595.06L372.69,586.86L381.09,586.86ZM381.97,593.94L377.77,585.74L386.17,585.74ZM387.04,592.26L382.84,584.05L391.24,584.05ZM392.11,590.16L387.91,581.95L396.31,581.95ZM397.19,595.06L392.99,586.86L401.39,586.86ZM402.26,596.19L398.06,587.98L406.46,587.98ZM407.34,595.06L403.14,586.86L411.54,586.86ZM412.41,595.63L408.21,587.42L416.61,587.42ZM417.48,595.06L413.28,586.86L421.68,586.86ZM422.56,582.45L418.36,574.24L426.76,574.24ZM427.63,595.06L423.43,586.86L431.83,586.86ZM432.71,592.96L428.51,584.75L436.91,584.75ZM437.78,592.26L433.58,584.05L441.98,584.05ZM442.85,592.96L438.65,584.75L447.05,584.75ZM447.93,574.04L443.73,565.83L452.13,565.83ZM453,593.66L448.8,585.45L457.2,585.45ZM458.08,590.86L453.88,582.65L462.28,582.65ZM463.15,592.96L458.95,584.75L467.35,584.75ZM468.22,594.5L464.02,586.3L472.42,586.3ZM473.3,592.68L469.1,584.47L477.5,584.47ZM478.37,588.06L474.17,579.85L482.57,579.85ZM483.45,587.08L479.25,578.87L487.65,578.87ZM488.52,569.83L484.32,561.63L492.72,561.63ZM493.59,587.08L489.39,578.87L497.79,578.87ZM498.67,555.82L494.47,547.61L502.87,547.61ZM503.74,580.63L499.54,572.42L507.94,572.42ZM508.82,571.52L504.62,563.31L513.02,563.31ZM513.89,547.41L509.69,539.2L518.09,539.2ZM518.96,510.68L514.76,502.48L523.16,502.48ZM524.04,525.68L519.84,517.47L528.24,517.47ZM529.11,485.73L524.91,477.53L533.31,477.53ZM534.19,536.76L529.99,528.55L538.39,528.55ZM539.26,486.72L535.06,478.51L543.46,478.51ZM544.33,467.51L540.13,459.31L548.53,459.31ZM549.41,452.09L545.21,443.89L553.61,443.89ZM554.48,438.5L550.28,430.29L558.68,430.29ZM559.56,516.85L555.36,508.64L563.76,508.64ZM564.63,492.04L560.43,483.83L568.83,483.83ZM569.7,479.43L565.5,471.22L573.9,471.22ZM574.78,457.7L570.58,449.49L578.98,449.49ZM579.85,468.91L575.65,460.71L584.05,460.71Z"/>
<path class="ln" d="M341.37,585.19L346.45,585.89L351.52,586.17L356.6,585.89L361.67,586.17L366.74,585.89L371.82,585.89L376.89,585.19L381.97,581.69L387.04,578.88L392.11,574.12L397.19,585.19L402.26,586.59L407.34,583.37L412.41,585.89L417.48,585.19L422.56,563.04L427.63,584.49L432.71,579.58L437.78,577.76L442.85,581.69L447.93,551.69L453,578.88L458.08,572.86L463.15,578.88L468.22,580.28L473.3,577.48L478.37,566.55L483.45,569.07L488.52,541.6L493.59,564.87L498.67,509.36L503.74,546.64L508.82,536.83L513.89,493.38L518.96,443.34L524.04,460.72L529.11,417.69L534.19,480.77L539.26,410.96L544.33,380.83L549.41,357L554.48,348.73L559.56,452.73L564.63,417.41L569.7,405.5L574.78,372.56L579.85,392.6"/>
<path class="mk" d="M338.32,582.06L344.42,582.06L344.42,588.32L338.32,588.32ZM343.4,582.76L349.5,582.76L349.5,589.02L343.4,589.02ZM348.47,583.04L354.57,583.04L354.57,589.3L348.47,589.3ZM353.55,582.76L359.65,582.76L359.65,589.02L353.55,589.02ZM358.62,583.04L364.72,583.04L364.72,589.3L358.62,589.3ZM363.69,582.76L369.79,582.76L369.79,589.02L363.69,589.02ZM368.77,582.76L374.87,582.76L374.87,589.02L368.77,589.02ZM373.84,582.06L379.94,582.06L379.94,588.32L373.84,588.32ZM378.92,578.55L385.02,578.55L385.02,584.82L378.92,584.82ZM383.99,575.75L390.09,575.75L390.09,582.02L383.99,582.02ZM389.06,570.99L395.16,570.99L395.16,577.25L389.06,577.25ZM394.14,582.06L400.24,582.06L400.24,588.32L394.14,588.32ZM399.21,583.46L405.31,583.46L405.31,589.72L399.21,589.72ZM404.29,580.24L410.39,580.24L410.39,586.5L404.29,586.5ZM409.36,582.76L415.46,582.76L415.46,589.02L409.36,589.02ZM414.43,582.06L420.53,582.06L420.53,588.32L414.43,588.32ZM419.51,559.91L425.61,559.91L425.61,566.18L419.51,566.18ZM424.58,581.36L430.68,581.36L430.68,587.62L424.58,587.62ZM429.66,576.45L435.76,576.45L435.76,582.72L429.66,582.72ZM434.73,574.63L440.83,574.63L440.83,580.89L434.73,580.89ZM439.8,578.55L445.9,578.55L445.9,584.82L439.8,584.82ZM444.88,548.56L450.98,548.56L450.98,554.82L444.88,554.82ZM449.95,575.75L456.05,575.75L456.05,582.02L449.95,582.02ZM455.03,569.72L461.13,569.72L461.13,575.99L455.03,575.99ZM460.1,575.75L466.2,575.75L466.2,582.02L460.1,582.02ZM465.17,577.15L471.27,577.15L471.27,583.42L465.17,583.42ZM470.25,574.35L476.35,574.35L476.35,580.61L470.25,580.61ZM475.32,563.42L481.42,563.42L481.42,569.68L475.32,569.68ZM480.4,565.94L486.5,565.94L486.5,572.2L480.4,572.2ZM485.47,538.47L491.57,538.47L491.57,544.73L485.47,544.73ZM490.54,561.73L496.64,561.73L496.64,568L490.54,568ZM495.62,506.23L501.72,506.23L501.72,512.49L495.62,512.49ZM500.69,543.51L506.79,543.51L506.79,549.78L500.69,549.78ZM505.77,533.7L511.87,533.7L511.87,539.97L505.77,539.97ZM510.84,490.25L516.94,490.25L516.94,496.51L510.84,496.51ZM515.91,440.21L522.01,440.21L522.01,446.47L515.91,446.47ZM520.99,457.59L527.09,457.59L527.09,463.85L520.99,463.85ZM526.06,414.56L532.16,414.56L532.16,420.82L526.06,420.82ZM531.14,477.63L537.24,477.63L537.24,483.9L531.14,483.9ZM536.21,407.83L542.31,407.83L542.31,414.1L536.21,414.1ZM541.28,377.7L547.38,377.7L547.38,383.96L541.28,383.96ZM546.36,353.87L552.46,353.87L552.46,360.13L546.36,360.13ZM551.43,345.6L557.53,345.6L557.53,351.86L551.43,351.86ZM556.51,449.6L562.61,449.6L562.61,455.87L556.51,455.87ZM561.58,414.28L567.68,414.28L567.68,420.54L561.58,420.54ZM566.65,402.37L572.75,402.37L572.75,408.63L566.65,408.63ZM571.73,369.43L577.83,369.43L577.83,375.69L571.73,375.69ZM576.8,389.47L582.9,389.47L582.9,395.73L576.8,395.73Z"/>
<path class="ln" d="M341.37,587.08L346.45,588.33L351.52,587.64L356.6,588.23L361.67,588.37L366.74,588.64L371.82,587.06L376.89,586.09L381.97,584.96L387.04,584.59L392.11,580.3L397.19,587.87L402.26,588.38L407.34,587.32L412.41,587.11L417.48,587.72L422.56,571.01L427.63,587.99L432.71,584.46L437.78,583.37L442.85,584.1L447.93,560.31L453,582.15L458.08,580.39L463.15,582.63L468.22,583.51L473.3,582.55L478.37,575.58L483.45,575.07L488.52,553.25L493.59,570.07L498.67,531.57L503.74,567.67L508.82,558.89L513.89,518.7L518.96,481.48L524.04,491.9L529.11,439.7L534.19,511.88L539.26,466.75L544.33,427.5L549.41,420.07L554.48,400.03L559.56,489.04L564.63,448.53L569.7,445.73L574.78,415.59L579.85,425.54"/>
<path class="mk" d="M337.57,587.08a3.8,4.1 0 1,0 7.6,0a3.8,4.1 0 1,0 -7.6,0ZM342.65,588.33a3.8,4.1 0 1,0 7.6,0a3.8,4.1 0 1,0 -7.6,0ZM347.72,587.64a3.8,4.1 0 1,0 7.6,0a3.8,4.1 0 1,0 -7.6,0ZM352.8,588.23a3.8,4.1 0 1,0 7.6,0a3.8,4.1 0 1,0 -7.6,0ZM357.87,588.37a3.8,4.1 0 1,0 7.6,0a3.8,4.1 0 1,0 -7.6,0ZM362.94,588.64a3.8,4.1 0 1,0 7.6,0a3.8,4.1 0 1,0 -7.6,0ZM368.02,587.06a3.8,4.1 0 1,0 7.6,0a3.8,4.1 0 1,0 -7.6,0ZM373.09,586.09a3.8,4.1 0 1,0 7.6,0a3.8,4.1 0 1,0 -7.6,0ZM378.17,584.96a3.8,4.1 0 1,0 7.6,0a3.8,4.1 0 1,0 -7.6,0ZM383.24,584.59a3.8,4.1 0 1,0 7.6,0a3.8,4.1 0 1,0 -7.6,0ZM388.31,580.3a3.8,4.1 0 1,0 7.6,0a3.8,4.1 0 1,0 -7.6,0ZM393.39,587.87a3.8,4.1 0 1,0 7.6,0a3.8,4.1 0 1,0 -7.6,0ZM398.46,588.38a3.8,4.1 0 1,0 7.6,0a3.8,4.1 0 1,0 -7.6,0ZM403.54,587.32a3.8,4.1 0 1,0 7.6,0a3.8,4.1 0 1,0 -7.6,0ZM408.61,587.11a3.8,4.1 0 1,0 7.6,0a3.8,4.1 0 1,0 -7.6,0ZM413.68,587.72a3.8,4.1 0 1,0 7.6,0a3.8,4.1 0 1,0 -7.6,0ZM418.76,571.01a3.8,4.1 0 1,0 7.6,0a3.8,4.1 0 1,0 -7.6,0ZM423.83,587.99a3.8,4.1 0 1,0 7.6,0a3.8,4.1 0 1,0 -7.6,0ZM428.91,584.46a3.8,4.1 0 1,0 7.6,0a3.8,4.1 0 1,0 -7.6,0ZM433.98,583.37a3.8,4.1 0 1,0 7.6,0a3.8,4.1 0 1,0 -7.6,0ZM439.05,584.1a3.8,4.1 0 1,0 7.6,0a3.8,4.1 0 1,0 -7.6,0ZM444.13,560.31a3.8,4.1 0 1,0 7.6,0a3.8,4.1 0 1,0 -7.6,0ZM449.2,582.15a3.8,4.1 0 1,0 7.6,0a3.8,4.1 0 1,0 -7.6,0ZM454.28,580.39a3.8,4.1 0 1,0 7.6,0a3.8,4.1 0 1,0 -7.6,0ZM459.35,582.63a3.8,4.1 0 1,0 7.6,0a3.8,4.1 0 1,0 -7.6,0ZM464.42,583.51a3.8,4.1 0 1,0 7.6,0a3.8,4.1 0 1,0 -7.6,0ZM469.5,582.55a3.8,4.1 0 1,0 7.6,0a3.8,4.1 0 1,0 -7.6,0ZM474.57,575.58a3.8,4.1 0 1,0 7.6,0a3.8,4.1 0 1,0 -7.6,0ZM479.65,575.07a3.8,4.1 0 1,0 7.6,0a3.8,4.1 0 1,0 -7.6,0ZM484.72,553.25a3.8,4.1 0 1,0 7.6,0a3.8,4.1 0 1,0 -7.6,0ZM489.79,570.07a3.8,4.1 0 1,0 7.6,0a3.8,4.1 0 1,0 -7.6,0ZM494.87,531.57a3.8,4.1 0 1,0 7.6,0a3.8,4.1 0 1,0 -7.6,0ZM499.94,567.67a3.8,4.1 0 1,0 7.6,0a3.8,4.1 0 1,0 -7.6,0ZM505.02,558.89a3.8,4.1 0 1,0 7.6,0a3.8,4.1 0 1,0 -7.6,0ZM510.09,518.7a3.8,4.1 0 1,0 7.6,0a3.8,4.1 0 1,0 -7.6,0ZM515.16,481.48a3.8,4.1 0 1,0 7.6,0a3.8,4.1 0 1,0 -7.6,0ZM520.24,491.9a3.8,4.1 0 1,0 7.6,0a3.8,4.1 0 1,0 -7.6,0ZM525.31,439.7a3.8,4.1 0 1,0 7.6,0a3.8,4.1 0 1,0 -7.6,0ZM530.39,511.88a3.8,4.1 0 1,0 7.6,0a3.8,4.1 0 1,0 -7.6,0ZM535.46,466.75a3.8,4.1 0 1,0 7.6,0a3.8,4.1 0 1,0 -7.6,0ZM540.53,427.5a3.8,4.1 0 1,0 7.6,0a3.8,4.1 0 1,0 -7.6,0ZM545.61,420.07a3.8,4.1 0 1,0 7.6,0a3.8,4.1 0 1,0 -7.6,0ZM550.68,400.03a3.8,4.1 0 1,0 7.6,0a3.8,4.1 0 1,0 -7.6,0ZM555.76,489.04a3.8,4.1 0 1,0 7.6,0a3.8,4.1 0 1,0 -7.6,0ZM560.83,448.53a3.8,4.1 0 1,0 7.6,0a3.8,4.1 0 1,0 -7.6,0ZM565.9,445.73a3.8,4.1 0 1,0 7.6,0a3.8,4.1 0 1,0 -7.6,0ZM570.98,415.59a3.8,4.1 0 1,0 7.6,0a3.8,4.1 0 1,0 -7.6,0ZM576.05,425.54a3.8,4.1 0 1,0 7.6,0a3.8,4.1 0 1,0 -7.6,0Z"/>
<rect class="lg" x="346.5" y="346" width="51" height="59.5"/>
<path class="ln" d="M348.3,351.96h15.6"/>
<path class="mk" d="M356.2,347.48L357.4,349.71L359.79,349.72L358.6,351.96L359.79,354.2L357.4,354.2L356.2,356.44L355,354.2L352.61,354.2L353.8,351.96L352.61,349.72L355,349.71Z"/>
<text class="lt" transform="translate(365.5,354.86) scale(1,1.13)">Standard</text>
<path class="ln" d="M348.3,361.47h15.6"/>
<path class="mk" d="M356.2,356.99L357.17,360.03L360.15,360.09L357.77,362.03L358.64,365.1L356.2,363.26L353.76,365.1L354.63,362.03L352.25,360.09L355.23,360.03Z"/>
<text class="lt" transform="translate(365.5,364.37) scale(1,1.13)">Level 55</text>
<path class="ln" d="M348.3,370.99h15.6"/>
<path class="mk" d="M351.6,370.99L359.2,366.46L359.2,375.53Z"/>
<text class="lt" transform="translate(365.5,373.89) scale(1,1.13)">Level 65</text>
<path class="ln" d="M348.3,380.51h15.6"/>
<path class="mk" d="M356.2,385.48L352,377.27L360.4,377.27Z"/>
<text class="lt" transform="translate(365.5,383.41) scale(1,1.13)">Level 75</text>
<path class="ln" d="M348.3,390.02h15.6"/>
<path class="mk" d="M353.15,386.89L359.25,386.89L359.25,393.16L353.15,393.16Z"/>
<text class="lt" transform="translate(365.5,392.92) scale(1,1.13)">Level 85</text>
<path class="ln" d="M348.3,399.54h15.6"/>
<path class="mk" d="M352.4,399.54a3.8,4.1 0 1,0 7.6,0a3.8,4.1 0 1,0 -7.6,0Z"/>
<text class="lt" transform="translate(365.5,402.44) scale(1,1.13)">Level 95</text>
<text class="lb" transform="translate(316.6,450.4) rotate(-90)" text-anchor="middle" textLength="43.2">Ra(µm)</text>
<text class="lb" x="467.3" y="627.4" text-anchor="middle">Sample number</text>
<text class="cp" x="461.6" y="653" text-anchor="middle">(d) <tspan font-style="italic">ED</tspan></text>
</svg>
</body>
</html>
